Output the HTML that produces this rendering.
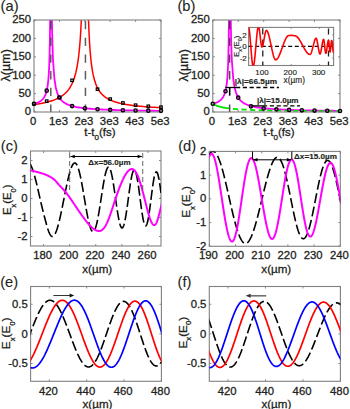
<!DOCTYPE html><html><head><meta charset="utf-8"><style>html,body{margin:0;padding:0;width:350px;height:409px;overflow:hidden;background:#fff}</style></head><body><svg width="350" height="409" viewBox="0 0 350 409" style="display:block;position:absolute;left:0;top:0"><style>text{stroke:#231f20;stroke-width:0.3px}text.s{stroke-width:0.15px}text.L{stroke-width:0.1px}</style>
<rect width="350" height="409" fill="#ffffff"/>
<g style='font-family:"Liberation Sans", sans-serif' fill="#231f20">
<clipPath id="ca"><rect x="34" y="20" width="127" height="92"/></clipPath>
<path d="M34,104.64 L34.89,104.51 L35.78,104.38 L36.68,104.24 L37.57,104.09 L38.46,103.94 L39.35,103.78 L40.25,103.62 L41.14,103.45 L42.03,103.28 L42.92,103.1 L43.81,102.9 L44.71,102.71 L45.6,102.5 L46.49,102.28 L47.38,102.05 L48.28,101.81 L49.17,101.56 L50.06,101.3 L50.95,101.02 L51.84,100.73 L52.74,100.42 L53.63,100.1 L54.52,99.75 L55.41,99.39 L56.31,99 L57.2,98.59 L58.09,98.16 L58.98,97.69 L59.87,97.19 L60.77,96.65 L61.66,96.08 L62.55,95.46 L63.44,94.79 L64.34,94.06 L65.23,93.27 L66.12,92.4 L67.01,91.45 L67.91,90.4 L68.8,89.25 L69.69,87.96 L70.58,86.51 L71.47,84.88 L72.37,83.03 L73.26,80.91 L74.15,78.45 L75.04,75.57 L75.94,72.15 L76.83,68.02 L77.72,62.93 L77.72,62.93 L78.34,58.64 L78.91,53.98 L79.43,48.91 L79.92,43.39 L80.36,37.4 L80.77,30.88 L81.14,23.79 L81.49,16.07 L81.81,7.69 L82.1,1.6 L82.37,1.6 L82.61,1.6 L82.84,1.6 L83.05,1.6 L83.24,1.6 L83.42,1.6 L83.58,1.6 L83.73,1.6 L83.87,1.6 L83.99,1.6 L84.11,1.6 L84.21,1.6 L84.31,1.6 L84.4,1.6 L84.49,1.6 L84.56,1.6 L84.63,1.6 L84.7,1.6 L84.76,1.6 L84.81,1.6 L84.86,1.6 L84.91,1.6 L84.95,1.6 L84.99,1.6 L85.02,1.6 L85.06,1.6 L85.09,1.6 L85.12,1.6 L85.14,1.6 L85.16,1.6 L85.19,1.6 L85.21,1.6 L85.22,1.6 L85.24,1.6 L85.26,1.6 L85.27,1.6 L85.28,1.6 L85.3,1.6 L85.31,1.6 L85.32,1.6 L85.33,1.6 L85.34,1.6 L85.34,1.6 L85.35,1.6 L85.36,1.6 L85.36,1.6 L85.37,1.6 L85.38,1.6 L85.38,1.6 L85.38,1.6 L85.39,1.6 L85.39,1.6 L85.4,1.6 L85.4,1.6 L85.4,1.6 L85.4,1.6 L85.41,1.6 L85.41,1.6 L85.41,1.6 L85.41,1.6 L85.41,1.6 L85.42,1.6 L85.42,1.6 L85.42,1.6 L85.42,1.6 L85.42,1.6 L85.42,1.6 L85.42,1.6 L85.42,1.6" stroke="#ff0000" stroke-width="1.5" fill="none" stroke-linejoin="round" clip-path="url(#ca)" />
<path d="M85.45,1.6 L85.45,1.6 L85.45,1.6 L85.45,1.6 L85.45,1.6 L85.45,1.6 L85.45,1.6 L85.45,1.6 L85.46,1.6 L85.46,1.6 L85.46,1.6 L85.46,1.6 L85.46,1.6 L85.47,1.6 L85.47,1.6 L85.47,1.6 L85.47,1.6 L85.48,1.6 L85.48,1.6 L85.49,1.6 L85.49,1.6 L85.49,1.6 L85.5,1.6 L85.51,1.6 L85.51,1.6 L85.52,1.6 L85.53,1.6 L85.53,1.6 L85.54,1.6 L85.55,1.6 L85.56,1.6 L85.57,1.6 L85.59,1.6 L85.6,1.6 L85.61,1.6 L85.63,1.6 L85.65,1.6 L85.66,1.6 L85.68,1.6 L85.71,1.6 L85.73,1.6 L85.75,1.6 L85.78,1.6 L85.81,1.6 L85.85,1.6 L85.88,1.6 L85.92,1.6 L85.96,1.6 L86.01,1.6 L86.06,1.6 L86.11,1.6 L86.17,1.6 L86.24,1.6 L86.31,1.6 L86.38,1.6 L86.47,1.6 L86.56,1.6 L86.66,1.6 L86.76,1.6 L86.88,1.6 L87,1.6 L87.14,1.6 L87.29,1.6 L87.45,1.6 L87.63,1.6 L87.82,1.6 L88.03,2.06 L88.26,10.86 L88.5,18.94 L88.77,26.38 L89.06,33.22 L89.38,39.5 L89.73,45.29 L90.1,50.61 L90.51,55.5 L90.95,59.99 L91.44,64.13 L91.96,67.93 L92.53,71.43 L93.15,74.65 L93.15,74.65 L94.01,78.33 L94.87,81.35 L95.73,83.86 L96.59,85.99 L97.44,87.81 L98.3,89.38 L99.16,90.76 L100.02,91.98 L100.88,93.07 L101.74,94.03 L102.6,94.91 L103.46,95.69 L104.32,96.41 L105.17,97.06 L106.03,97.66 L106.89,98.22 L107.75,98.73 L108.61,99.2 L109.47,99.63 L110.33,100.04 L111.19,100.42 L112.05,100.78 L112.9,101.11 L113.76,101.43 L114.62,101.72 L115.48,102 L116.34,102.26 L117.2,102.51 L118.06,102.74 L118.92,102.97 L119.77,103.18 L120.63,103.38 L121.49,103.57 L122.35,103.76 L123.21,103.93 L124.07,104.1 L124.93,104.26 L125.79,104.41 L126.65,104.56 L127.5,104.7 L128.36,104.83 L129.22,104.96 L130.08,105.09 L130.94,105.21 L131.8,105.32 L132.66,105.44 L133.52,105.54 L134.38,105.65 L135.23,105.75 L136.09,105.84 L136.95,105.94 L137.81,106.03 L138.67,106.11 L139.53,106.2 L140.39,106.28 L141.25,106.36 L142.11,106.44 L142.96,106.51 L143.82,106.59 L144.68,106.66 L145.54,106.72 L146.4,106.79 L147.26,106.86 L148.12,106.92 L148.98,106.98 L149.83,107.04 L150.69,107.1 L151.55,107.15 L152.41,107.21 L153.27,107.26 L154.13,107.31 L154.99,107.37 L155.85,107.42 L156.71,107.46 L157.56,107.51 L158.42,107.56 L159.28,107.6 L160.14,107.65 L161,107.69" stroke="#ff0000" stroke-width="1.5" fill="none" stroke-linejoin="round" clip-path="url(#ca)" />
<path d="M34,103.79 L34.29,103.72 L34.59,103.63 L34.88,103.55 L35.18,103.46 L35.47,103.37 L35.77,103.28 L36.06,103.18 L36.35,103.08 L36.65,102.98 L36.94,102.87 L37.24,102.75 L37.53,102.63 L37.83,102.51 L38.12,102.38 L38.41,102.24 L38.71,102.1 L39,101.95 L39.3,101.79 L39.59,101.62 L39.89,101.45 L40.18,101.26 L40.48,101.07 L40.77,100.86 L41.06,100.64 L41.36,100.41 L41.65,100.17 L41.95,99.9 L42.24,99.62 L42.54,99.32 L42.83,99 L43.12,98.66 L43.42,98.28 L43.71,97.88 L44.01,97.44 L44.3,96.97 L44.6,96.45 L44.89,95.88 L45.18,95.25 L45.48,94.56 L45.77,93.78 L46.07,92.92 L46.36,91.94 L46.66,90.83 L46.95,89.56 L47.24,88.08 L47.54,86.35 L47.83,84.3 L48.13,81.82 L48.42,78.77 L48.42,78.77 L48.63,76.2 L48.81,73.4 L48.99,70.36 L49.15,67.05 L49.29,63.45 L49.43,59.54 L49.55,55.28 L49.67,50.65 L49.77,45.62 L49.87,40.15 L49.95,34.2 L50.04,27.74 L50.11,20.7 L50.18,13.05 L50.24,4.73 L50.3,1.6 L50.35,1.6 L50.4,1.6 L50.45,1.6 L50.49,1.6 L50.53,1.6 L50.56,1.6 L50.6,1.6 L50.63,1.6 L50.65,1.6 L50.68,1.6 L50.7,1.6 L50.72,1.6 L50.74,1.6 L50.76,1.6 L50.78,1.6 L50.79,1.6 L50.81,1.6 L50.82,1.6 L50.83,1.6 L50.84,1.6 L50.85,1.6 L50.86,1.6 L50.87,1.6 L50.88,1.6 L50.89,1.6 L50.89,1.6 L50.9,1.6 L50.9,1.6 L50.91,1.6 L50.91,1.6 L50.92,1.6 L50.92,1.6 L50.93,1.6 L50.93,1.6 L50.93,1.6 L50.93,1.6 L50.94,1.6 L50.94,1.6 L50.94,1.6 L50.94,1.6 L50.95,1.6 L50.95,1.6 L50.95,1.6 L50.95,1.6 L50.95,1.6 L50.95,1.6 L50.95,1.6 L50.96,1.6 L50.96,1.6 L50.96,1.6 L50.96,1.6 L50.96,1.6 L50.96,1.6 L50.96,1.6 L50.96,1.6 L50.96,1.6 L50.96,1.6 L50.96,1.6 L50.96,1.6 L50.96,1.6 L50.96,1.6 L50.96,1.6 L50.96,1.6" stroke="#ff00ff" stroke-width="1.8" fill="none" stroke-linejoin="round" clip-path="url(#ca)" />
<path d="M50.56,1.6 L50.56,1.6 L50.56,1.6 L50.57,1.6 L50.57,1.6 L50.57,1.6 L50.57,1.6 L50.57,1.6 L50.57,1.6 L50.57,1.6 L50.57,1.6 L50.57,1.6 L50.57,1.6 L50.57,1.6 L50.57,1.6 L50.57,1.6 L50.57,1.6 L50.57,1.6 L50.58,1.6 L50.58,1.6 L50.58,1.6 L50.58,1.6 L50.58,1.6 L50.58,1.6 L50.59,1.6 L50.59,1.6 L50.59,1.6 L50.59,1.6 L50.6,1.6 L50.6,1.6 L50.6,1.6 L50.61,1.6 L50.61,1.6 L50.61,1.6 L50.62,1.6 L50.62,1.6 L50.63,1.6 L50.63,1.6 L50.64,1.6 L50.65,1.6 L50.66,1.6 L50.66,1.6 L50.67,1.6 L50.68,1.6 L50.69,1.6 L50.7,1.6 L50.72,1.6 L50.73,1.6 L50.75,1.6 L50.76,1.6 L50.78,1.6 L50.8,1.6 L50.82,1.6 L50.84,1.6 L50.87,1.6 L50.89,1.6 L50.92,1.6 L50.95,1.6 L50.99,1.6 L51.03,1.6 L51.07,1.6 L51.11,1.6 L51.16,1.6 L51.21,1.6 L51.27,1.6 L51.33,1.6 L51.4,1.6 L51.47,1.6 L51.55,1.6 L51.64,1.6 L51.73,2.47 L51.83,11.28 L51.94,19.38 L52.06,26.82 L52.19,33.67 L52.34,39.96 L52.49,45.75 L52.66,51.08 L52.85,55.98 L53.04,60.48 L53.04,60.48 L54.41,78.76 L55.78,87.47 L57.14,92.56 L58.51,95.9 L59.88,98.26 L61.24,100.02 L62.61,101.38 L63.98,102.46 L65.34,103.34 L66.71,104.08 L68.08,104.69 L69.44,105.22 L70.81,105.68 L72.18,106.08 L73.54,106.43 L74.91,106.74 L76.28,107.02 L77.64,107.27 L79.01,107.5 L80.38,107.71 L81.74,107.9 L83.11,108.07 L84.47,108.23 L85.84,108.37 L87.21,108.51 L88.57,108.63 L89.94,108.75 L91.31,108.86 L92.67,108.96 L94.04,109.06 L95.41,109.15 L96.77,109.23 L98.14,109.31 L99.51,109.39 L100.87,109.46 L102.24,109.52 L103.61,109.59 L104.97,109.65 L106.34,109.71 L107.71,109.76 L109.07,109.81 L110.44,109.86 L111.81,109.91 L113.17,109.96 L114.54,110 L115.9,110.04 L117.27,110.08 L118.64,110.12 L120,110.16 L121.37,110.19 L122.74,110.23 L124.1,110.26 L125.47,110.29 L126.84,110.32 L128.2,110.35 L129.57,110.38 L130.94,110.41 L132.3,110.43 L133.67,110.46 L135.04,110.48 L136.4,110.51 L137.77,110.53 L139.14,110.56 L140.5,110.58 L141.87,110.6 L143.24,110.62 L144.6,110.64 L145.97,110.66 L147.33,110.68 L148.7,110.7 L150.07,110.71 L151.43,110.73 L152.8,110.75 L154.17,110.76 L155.53,110.78 L156.9,110.8 L158.27,110.81 L159.63,110.83 L161,110.84" stroke="#ff00ff" stroke-width="1.8" fill="none" stroke-linejoin="round" clip-path="url(#ca)" />
<path d="M50.79,20 V112" stroke="#4d4d4d" stroke-width="1.5" stroke-dasharray="8.3,8.4" stroke-dashoffset="-1" fill="none" opacity="0.9"/>
<path d="M85.44,20 V112" stroke="#4d4d4d" stroke-width="1.5" stroke-dasharray="8.3,8.4" stroke-dashoffset="-1" fill="none" opacity="0.9"/>
<path d="M34,112v-2.0M34,20v2.0M59.4,112v-2.0M59.4,20v2.0M84.8,112v-2.0M84.8,20v2.0M110.2,112v-2.0M110.2,20v2.0M135.6,112v-2.0M135.6,20v2.0M161,112v-2.0M161,20v2.0M34,112h2.0M161,112h-2.0M34,93.6h2.0M161,93.6h-2.0M34,75.2h2.0M161,75.2h-2.0M34,56.8h2.0M161,56.8h-2.0M34,38.4h2.0M161,38.4h-2.0M34,20h2.0M161,20h-2.0" stroke="#808080" stroke-width="0.9" fill="none"/>
<rect x="34" y="20" width="127" height="92" stroke="#808080" stroke-width="1.1" fill="none"/>
<text x="33.1" y="124.7" font-size="11.3" text-anchor="middle" font-weight="normal" >0</text>
<text x="58.5" y="124.7" font-size="11.3" text-anchor="middle" font-weight="normal" >1e3</text>
<text x="83.9" y="124.7" font-size="11.3" text-anchor="middle" font-weight="normal" >2e3</text>
<text x="109.3" y="124.7" font-size="11.3" text-anchor="middle" font-weight="normal" >3e3</text>
<text x="134.7" y="124.7" font-size="11.3" text-anchor="middle" font-weight="normal" >4e3</text>
<text x="160.1" y="124.7" font-size="11.3" text-anchor="middle" font-weight="normal" >5e3</text>
<text x="31" y="115.3" font-size="11.3" text-anchor="end" font-weight="normal" >0</text>
<text x="31" y="96.9" font-size="11.3" text-anchor="end" font-weight="normal" >50</text>
<text x="31" y="78.5" font-size="11.3" text-anchor="end" font-weight="normal" >100</text>
<text x="31" y="60.1" font-size="11.3" text-anchor="end" font-weight="normal" >150</text>
<text x="31" y="41.7" font-size="11.3" text-anchor="end" font-weight="normal" >200</text>
<text x="31" y="23.3" font-size="11.3" text-anchor="end" font-weight="normal" >250</text>
<text transform="matrix(1.05,0,0,1,0.6,10.6)" font-size="14" text-anchor="start" font-weight="normal" class="L">(a)</text>
<text x="100" y="135.6" font-size="11.5" text-anchor="middle">t-t<tspan font-size="8" dy="4.4">0</tspan><tspan dy="-4.4">(fs)</tspan></text>
<text transform="translate(10.4,65.3) rotate(-90)" font-size="12.5" text-anchor="middle">λ(µm)</text>
<rect x="32.75" y="102.54" width="2.5" height="2.5" stroke="#000" stroke-width="1.2" fill="none"/>
<rect x="45.45" y="99.89" width="2.5" height="2.5" stroke="#000" stroke-width="1.2" fill="none"/>
<rect x="58.15" y="96.25" width="2.5" height="2.5" stroke="#000" stroke-width="1.2" fill="none"/>
<rect x="70.85" y="79.1" width="2.5" height="2.5" stroke="#000" stroke-width="1.2" fill="none"/>
<rect x="96.25" y="87.93" width="2.5" height="2.5" stroke="#000" stroke-width="1.2" fill="none"/>
<rect x="108.95" y="97.87" width="2.5" height="2.5" stroke="#000" stroke-width="1.2" fill="none"/>
<rect x="121.65" y="101.73" width="2.5" height="2.5" stroke="#000" stroke-width="1.2" fill="none"/>
<rect x="134.35" y="103.94" width="2.5" height="2.5" stroke="#000" stroke-width="1.2" fill="none"/>
<rect x="147.05" y="105.05" width="2.5" height="2.5" stroke="#000" stroke-width="1.2" fill="none"/>
<rect x="159.75" y="105.97" width="2.5" height="2.5" stroke="#000" stroke-width="1.2" fill="none"/>
<circle cx="34" cy="103.79" r="1.65" stroke="#000" stroke-width="1.35" fill="none"/>
<circle cx="46.7" cy="90.66" r="1.65" stroke="#000" stroke-width="1.35" fill="none"/>
<circle cx="59.4" cy="97.5" r="1.65" stroke="#000" stroke-width="1.35" fill="none"/>
<circle cx="72.1" cy="106.11" r="1.65" stroke="#000" stroke-width="1.35" fill="none"/>
<circle cx="84.8" cy="108.25" r="1.65" stroke="#000" stroke-width="1.35" fill="none"/>
<circle cx="97.5" cy="109.28" r="1.65" stroke="#000" stroke-width="1.35" fill="none"/>
<circle cx="110.2" cy="109.87" r="1.65" stroke="#000" stroke-width="1.35" fill="none"/>
<circle cx="122.9" cy="110.23" r="1.65" stroke="#000" stroke-width="1.35" fill="none"/>
<circle cx="135.6" cy="110.49" r="1.65" stroke="#000" stroke-width="1.35" fill="none"/>
<circle cx="148.3" cy="110.68" r="1.65" stroke="#000" stroke-width="1.35" fill="none"/>
<circle cx="161" cy="110.82" r="1.65" stroke="#000" stroke-width="1.35" fill="none"/>
<clipPath id="cb"><rect x="212.8" y="20" width="127.2" height="92"/></clipPath>
<path d="M212.8,103.79 L213.09,103.72 L213.39,103.63 L213.68,103.55 L213.98,103.46 L214.27,103.37 L214.57,103.28 L214.86,103.18 L215.16,103.08 L215.45,102.98 L215.75,102.87 L216.04,102.75 L216.34,102.63 L216.63,102.51 L216.93,102.38 L217.22,102.24 L217.52,102.1 L217.81,101.95 L218.11,101.79 L218.4,101.62 L218.7,101.45 L218.99,101.26 L219.29,101.07 L219.58,100.86 L219.88,100.64 L220.17,100.41 L220.46,100.17 L220.76,99.9 L221.05,99.62 L221.35,99.32 L221.64,99 L221.94,98.66 L222.23,98.28 L222.53,97.88 L222.82,97.44 L223.12,96.97 L223.41,96.45 L223.71,95.88 L224,95.25 L224.3,94.56 L224.59,93.78 L224.89,92.92 L225.18,91.94 L225.48,90.83 L225.77,89.56 L226.07,88.08 L226.36,86.35 L226.66,84.3 L226.95,81.82 L227.24,78.77 L227.24,78.77 L227.45,76.2 L227.64,73.4 L227.81,70.36 L227.97,67.05 L228.12,63.45 L228.25,59.54 L228.38,55.28 L228.49,50.65 L228.59,45.62 L228.69,40.15 L228.78,34.2 L228.86,27.74 L228.94,20.7 L229.01,13.05 L229.07,4.73 L229.13,1.6 L229.18,1.6 L229.23,1.6 L229.28,1.6 L229.32,1.6 L229.36,1.6 L229.39,1.6 L229.42,1.6 L229.45,1.6 L229.48,1.6 L229.51,1.6 L229.53,1.6 L229.55,1.6 L229.57,1.6 L229.59,1.6 L229.6,1.6 L229.62,1.6 L229.63,1.6 L229.65,1.6 L229.66,1.6 L229.67,1.6 L229.68,1.6 L229.69,1.6 L229.7,1.6 L229.7,1.6 L229.71,1.6 L229.72,1.6 L229.72,1.6 L229.73,1.6 L229.74,1.6 L229.74,1.6 L229.74,1.6 L229.75,1.6 L229.75,1.6 L229.76,1.6 L229.76,1.6 L229.76,1.6 L229.76,1.6 L229.77,1.6 L229.77,1.6 L229.77,1.6 L229.77,1.6 L229.77,1.6 L229.78,1.6 L229.78,1.6 L229.78,1.6 L229.78,1.6 L229.78,1.6 L229.78,1.6 L229.78,1.6 L229.78,1.6 L229.78,1.6 L229.79,1.6 L229.79,1.6 L229.79,1.6 L229.79,1.6 L229.79,1.6 L229.79,1.6 L229.79,1.6 L229.79,1.6 L229.79,1.6 L229.79,1.6 L229.79,1.6 L229.79,1.6" stroke="#ff00ff" stroke-width="1.8" fill="none" stroke-linejoin="round" clip-path="url(#cb)" />
<path d="M229.39,1.6 L229.39,1.6 L229.39,1.6 L229.39,1.6 L229.39,1.6 L229.39,1.6 L229.39,1.6 L229.39,1.6 L229.39,1.6 L229.39,1.6 L229.39,1.6 L229.4,1.6 L229.4,1.6 L229.4,1.6 L229.4,1.6 L229.4,1.6 L229.4,1.6 L229.4,1.6 L229.4,1.6 L229.4,1.6 L229.4,1.6 L229.41,1.6 L229.41,1.6 L229.41,1.6 L229.41,1.6 L229.41,1.6 L229.42,1.6 L229.42,1.6 L229.42,1.6 L229.42,1.6 L229.43,1.6 L229.43,1.6 L229.44,1.6 L229.44,1.6 L229.44,1.6 L229.45,1.6 L229.45,1.6 L229.46,1.6 L229.47,1.6 L229.47,1.6 L229.48,1.6 L229.49,1.6 L229.5,1.6 L229.51,1.6 L229.52,1.6 L229.53,1.6 L229.54,1.6 L229.56,1.6 L229.57,1.6 L229.59,1.6 L229.61,1.6 L229.63,1.6 L229.65,1.6 L229.67,1.6 L229.69,1.6 L229.72,1.6 L229.75,1.6 L229.78,1.6 L229.82,1.6 L229.85,1.6 L229.89,1.6 L229.94,1.6 L229.99,1.6 L230.04,1.6 L230.09,1.6 L230.16,1.6 L230.22,1.6 L230.3,1.6 L230.38,1.6 L230.46,1.6 L230.56,2.47 L230.66,11.28 L230.77,19.38 L230.89,26.82 L231.02,33.67 L231.17,39.96 L231.32,45.75 L231.49,51.08 L231.67,55.98 L231.87,60.48 L231.87,60.48 L233.24,78.76 L234.61,87.47 L235.98,92.56 L237.35,95.9 L238.72,98.26 L240.09,100.02 L241.46,101.38 L242.82,102.46 L244.19,103.34 L245.56,104.08 L246.93,104.69 L248.3,105.22 L249.67,105.68 L251.04,106.08 L252.4,106.43 L253.77,106.74 L255.14,107.02 L256.51,107.27 L257.88,107.5 L259.25,107.71 L260.62,107.9 L261.99,108.07 L263.35,108.23 L264.72,108.37 L266.09,108.51 L267.46,108.63 L268.83,108.75 L270.2,108.86 L271.57,108.96 L272.94,109.06 L274.3,109.15 L275.67,109.23 L277.04,109.31 L278.41,109.39 L279.78,109.46 L281.15,109.52 L282.52,109.59 L283.88,109.65 L285.25,109.71 L286.62,109.76 L287.99,109.81 L289.36,109.86 L290.73,109.91 L292.1,109.96 L293.47,110 L294.83,110.04 L296.2,110.08 L297.57,110.12 L298.94,110.16 L300.31,110.19 L301.68,110.23 L303.05,110.26 L304.41,110.29 L305.78,110.32 L307.15,110.35 L308.52,110.38 L309.89,110.41 L311.26,110.43 L312.63,110.46 L314,110.48 L315.36,110.51 L316.73,110.53 L318.1,110.56 L319.47,110.58 L320.84,110.6 L322.21,110.62 L323.58,110.64 L324.94,110.66 L326.31,110.68 L327.68,110.7 L329.05,110.71 L330.42,110.73 L331.79,110.75 L333.16,110.76 L334.53,110.78 L335.89,110.8 L337.26,110.81 L338.63,110.83 L340,110.84" stroke="#ff00ff" stroke-width="1.8" fill="none" stroke-linejoin="round" clip-path="url(#cb)" />
<path d="M229.62,20 V112" stroke="#3a3a3a" stroke-width="1.5" stroke-dasharray="8.3,8.4" stroke-dashoffset="-1" fill="none" opacity="0.9"/>
<path d="M212.8,103.72 L213.23,103.99 L213.65,104.24 L214.08,104.48 L214.5,104.7 L214.93,104.91 L215.35,105.11 L215.78,105.3 L216.2,105.48 L216.63,105.65 L217.05,105.81 L217.48,105.96 L217.91,106.1 L218.33,106.24 L218.76,106.38 L219.18,106.5 L219.61,106.62 L220.03,106.74 L220.46,106.85 L220.88,106.95 L221.31,107.05 L221.73,107.15 L222.16,107.25 L222.58,107.34 L223.01,107.42 L223.44,107.51 L223.86,107.59 L224.29,107.67 L224.71,107.74 L225.14,107.81 L225.56,107.88 L225.99,107.95 L226.41,108.02 L226.84,108.08 L227.26,108.14 L227.69,108.2 L228.12,108.26 L228.54,108.32 L228.97,108.37" stroke="#00e600" stroke-width="1.8" fill="none" stroke-linejoin="round" clip-path="url(#cb)" />
<path d="M229.39,108.42 L229.82,108.47 L230.24,108.52 L230.67,108.57 L231.09,108.62 L231.52,108.67 L231.94,108.71 L232.37,108.75 L232.79,108.8 L233.22,108.84 L233.65,108.88 L234.07,108.92 L234.5,108.96 L234.92,108.99 L235.35,109.03 L235.77,109.06 L236.2,109.1 L236.62,109.13 L237.05,109.17 L237.47,109.2 L237.9,109.23 L238.33,109.26 L238.75,109.29 L239.18,109.32 L239.6,109.35 L240.03,109.38 L240.45,109.41 L240.88,109.43 L241.3,109.46 L241.73,109.49 L242.15,109.51 L242.58,109.54 L243,109.56 L243.43,109.58 L243.86,109.61 L244.28,109.63 L244.71,109.65 L245.13,109.68 L245.56,109.7 L245.98,109.72 L246.41,109.74 L246.83,109.76 L247.26,109.78 L247.68,109.8 L248.11,109.82 L248.54,109.84 L248.96,109.86 L249.39,109.88 L249.81,109.89 L250.24,109.91 L250.66,109.93 L251.09,109.95 L251.51,109.96 L251.94,109.98 L252.36,110 L252.79,110.01 L253.21,110.03 L253.64,110.05 L254.07,110.06 L254.49,110.08 L254.92,110.09 L255.34,110.11 L255.77,110.12 L256.19,110.13 L256.62,110.15 L257.04,110.16 L257.47,110.18 L257.89,110.19 L258.32,110.2 L258.75,110.22 L259.17,110.23 L259.6,110.24 L260.02,110.25 L260.45,110.27 L260.87,110.28 L261.3,110.29 L261.72,110.3 L262.15,110.31 L262.57,110.33 L263,110.34 L263.42,110.35 L263.85,110.36 L264.28,110.37 L264.7,110.38 L265.13,110.39 L265.55,110.4 L265.98,110.41 L266.4,110.42 L266.83,110.43 L267.25,110.44 L267.68,110.45 L268.1,110.46 L268.53,110.47 L268.96,110.48 L269.38,110.49 L269.81,110.5 L270.23,110.51 L270.66,110.52 L271.08,110.53 L271.51,110.54 L271.93,110.54 L272.36,110.55 L272.78,110.56 L273.21,110.57 L273.63,110.58 L274.06,110.59 L274.49,110.59 L274.91,110.6 L275.34,110.61 L275.76,110.62 L276.19,110.63 L276.61,110.63 L277.04,110.64 L277.46,110.65 L277.89,110.66 L278.31,110.66 L278.74,110.67 L279.17,110.68 L279.59,110.68 L280.02,110.69 L280.44,110.7 L280.87,110.71 L281.29,110.71 L281.72,110.72 L282.14,110.73 L282.57,110.73 L282.99,110.74 L283.42,110.74 L283.84,110.75 L284.27,110.76 L284.7,110.76 L285.12,110.77 L285.55,110.78 L285.97,110.78 L286.4,110.79 L286.82,110.79 L287.25,110.8 L287.67,110.81 L288.1,110.81 L288.52,110.82 L288.95,110.82 L289.38,110.83 L289.8,110.83 L290.23,110.84 L290.65,110.85 L291.08,110.85 L291.5,110.86 L291.93,110.86 L292.35,110.87 L292.78,110.87 L293.2,110.88 L293.63,110.88 L294.05,110.89 L294.48,110.89 L294.91,110.9 L295.33,110.9 L295.76,110.91 L296.18,110.91 L296.61,110.92 L297.03,110.92 L297.46,110.93 L297.88,110.93 L298.31,110.94 L298.73,110.94 L299.16,110.94 L299.59,110.95 L300.01,110.95 L300.44,110.96 L300.86,110.96 L301.29,110.97 L301.71,110.97 L302.14,110.98 L302.56,110.98 L302.99,110.98 L303.41,110.99 L303.84,110.99 L304.26,111 L304.69,111 L305.12,111 L305.54,111.01 L305.97,111.01 L306.39,111.02 L306.82,111.02 L307.24,111.02 L307.67,111.03 L308.09,111.03 L308.52,111.04 L308.94,111.04 L309.37,111.04 L309.8,111.05 L310.22,111.05 L310.65,111.05 L311.07,111.06 L311.5,111.06 L311.92,111.06 L312.35,111.07 L312.77,111.07 L313.2,111.08 L313.62,111.08 L314.05,111.08 L314.47,111.09 L314.9,111.09 L315.33,111.09 L315.75,111.1 L316.18,111.1 L316.6,111.1 L317.03,111.11 L317.45,111.11 L317.88,111.11 L318.3,111.12 L318.73,111.12 L319.15,111.12 L319.58,111.12 L320.01,111.13 L320.43,111.13 L320.86,111.13 L321.28,111.14 L321.71,111.14 L322.13,111.14 L322.56,111.15 L322.98,111.15 L323.41,111.15 L323.83,111.16 L324.26,111.16 L324.68,111.16 L325.11,111.16 L325.54,111.17 L325.96,111.17 L326.39,111.17 L326.81,111.17 L327.24,111.18 L327.66,111.18 L328.09,111.18 L328.51,111.19 L328.94,111.19 L329.36,111.19 L329.79,111.19 L330.22,111.2 L330.64,111.2 L331.07,111.2 L331.49,111.2 L331.92,111.21 L332.34,111.21 L332.77,111.21 L333.19,111.21 L333.62,111.22 L334.04,111.22 L334.47,111.22 L334.89,111.22 L335.32,111.23 L335.75,111.23 L336.17,111.23 L336.6,111.23 L337.02,111.24 L337.45,111.24 L337.87,111.24 L338.3,111.24 L338.72,111.25 L339.15,111.25 L339.57,111.25 L340,111.25" stroke="#00e600" stroke-width="1.8" fill="none" stroke-linejoin="round" clip-path="url(#cb)" stroke-dasharray="5.2,3.4" stroke-dashoffset="-3.5"/>
<path d="M212.8,112v-2.0M212.8,20v2.0M238.24,112v-2.0M238.24,20v2.0M263.68,112v-2.0M263.68,20v2.0M289.12,112v-2.0M289.12,20v2.0M314.56,112v-2.0M314.56,20v2.0M340,112v-2.0M340,20v2.0M212.8,112h2.0M340,112h-2.0M212.8,93.6h2.0M340,93.6h-2.0M212.8,75.2h2.0M340,75.2h-2.0M212.8,56.8h2.0M340,56.8h-2.0M212.8,38.4h2.0M340,38.4h-2.0M212.8,20h2.0M340,20h-2.0" stroke="#808080" stroke-width="0.9" fill="none"/>
<rect x="212.8" y="20" width="127.2" height="92" stroke="#808080" stroke-width="1.1" fill="none"/>
<text x="211.9" y="124.7" font-size="11.3" text-anchor="middle" font-weight="normal" >0</text>
<text x="237.34" y="124.7" font-size="11.3" text-anchor="middle" font-weight="normal" >1e3</text>
<text x="262.78" y="124.7" font-size="11.3" text-anchor="middle" font-weight="normal" >2e3</text>
<text x="288.22" y="124.7" font-size="11.3" text-anchor="middle" font-weight="normal" >3e3</text>
<text x="313.66" y="124.7" font-size="11.3" text-anchor="middle" font-weight="normal" >4e3</text>
<text x="339.1" y="124.7" font-size="11.3" text-anchor="middle" font-weight="normal" >5e3</text>
<text x="209.8" y="115.3" font-size="11.3" text-anchor="end" font-weight="normal" >0</text>
<text x="209.8" y="96.9" font-size="11.3" text-anchor="end" font-weight="normal" >50</text>
<text x="209.8" y="78.5" font-size="11.3" text-anchor="end" font-weight="normal" >100</text>
<text x="209.8" y="60.1" font-size="11.3" text-anchor="end" font-weight="normal" >150</text>
<text x="209.8" y="41.7" font-size="11.3" text-anchor="end" font-weight="normal" >200</text>
<text x="209.8" y="23.3" font-size="11.3" text-anchor="end" font-weight="normal" >250</text>
<text transform="matrix(1.05,0,0,1,177.4,10.6)" font-size="14" text-anchor="start" font-weight="normal" class="L">(b)</text>
<text x="278.9" y="135.6" font-size="11.5" text-anchor="middle">t-t<tspan font-size="8" dy="4.4">0</tspan><tspan dy="-4.4">(fs)</tspan></text>
<text transform="translate(188,65.3) rotate(-90)" font-size="12.5" text-anchor="middle">λ(µm)</text>
<circle cx="212.8" cy="103.72" r="1.65" stroke="#000" stroke-width="1.35" fill="none"/>
<circle cx="225.52" cy="91.21" r="1.65" stroke="#000" stroke-width="1.35" fill="none"/>
<circle cx="238.24" cy="97.65" r="1.65" stroke="#000" stroke-width="1.35" fill="none"/>
<circle cx="250.96" cy="106.3" r="1.65" stroke="#000" stroke-width="1.35" fill="none"/>
<circle cx="263.68" cy="108.39" r="1.65" stroke="#000" stroke-width="1.35" fill="none"/>
<circle cx="276.4" cy="109.35" r="1.65" stroke="#000" stroke-width="1.35" fill="none"/>
<circle cx="289.12" cy="109.94" r="1.65" stroke="#000" stroke-width="1.35" fill="none"/>
<circle cx="301.84" cy="110.31" r="1.65" stroke="#000" stroke-width="1.35" fill="none"/>
<circle cx="314.56" cy="110.56" r="1.65" stroke="#000" stroke-width="1.35" fill="none"/>
<circle cx="327.28" cy="110.79" r="1.65" stroke="#000" stroke-width="1.35" fill="none"/>
<circle cx="340" cy="110.97" r="1.65" stroke="#000" stroke-width="1.35" fill="none"/>
<path d="M225.2,87.5 H236" stroke="#000" stroke-width="1.3" fill="none"/>
<path d="M236,87.5 H279" stroke="#000" stroke-width="1.3" stroke-dasharray="4.2,2.6" fill="none"/>
<path d="M229.62,87.5 V95" stroke="#000" stroke-width="1.3" fill="none"/>
<path d="M251,105.9 H263" stroke="#000" stroke-width="1.3" fill="none"/>
<path d="M263,105.9 H300" stroke="#000" stroke-width="1.3" stroke-dasharray="4.2,2.6" fill="none"/>
<text x="234.8" y="84.3" font-size="7.9" class="s" font-weight="bold" textLength="42.2" lengthAdjust="spacingAndGlyphs">|λ|=66.5µm</text>
<text x="257" y="103.4" font-size="7.9" class="s" font-weight="bold" textLength="41.6" lengthAdjust="spacingAndGlyphs">|λ|=15.0µm</text>
<clipPath id="ci"><rect x="248.6" y="27.4" width="85" height="38.1"/></clipPath>
<rect x="248.6" y="27.4" width="85" height="38.1" fill="#fff"/>
<path d="M262.77,65.5v-1.5M262.77,27.4v1.5M291.1,65.5v-1.5M291.1,27.4v1.5M319.43,65.5v-1.5M319.43,27.4v1.5M248.6,58h1.5M333.6,58h-1.5M248.6,46.45h1.5M333.6,46.45h-1.5M248.6,34.9h1.5M333.6,34.9h-1.5" stroke="#808080" stroke-width="0.9" fill="none"/>
<rect x="248.6" y="27.4" width="85" height="38.1" stroke="#808080" stroke-width="1.1" fill="none"/>
<path d="M248.6,46.45 H333.6" stroke="#000" stroke-width="1.2" stroke-dasharray="4,2.6" fill="none"/>
<path d="M262.77,27.4 V65.5" stroke="#222" stroke-width="1.3" stroke-dasharray="6,5" stroke-dashoffset="-1" fill="none"/>
<path d="M328.5,27.4 V65.5" stroke="#222" stroke-width="1.3" stroke-dasharray="6,5" stroke-dashoffset="-1" fill="none"/>
<path d="M246.5,30.01 L246.6,29.57 L246.7,29.17 L246.79,28.79 L246.89,28.45 L246.99,28.13 L247.09,27.84 L247.19,27.58 L247.28,27.35 L247.38,27.14 L247.48,26.95 L247.58,26.79 L247.67,26.65 L247.77,26.53 L247.87,26.43 L247.97,26.35 L248.07,26.29 L248.16,26.24 L248.26,26.22 L248.36,26.2 L248.46,26.22 L248.56,26.33 L248.65,26.53 L248.75,26.82 L248.85,27.2 L248.95,27.66 L249.05,28.2 L249.14,28.81 L249.24,29.49 L249.34,30.24 L249.44,31.05 L249.53,31.92 L249.63,32.84 L249.73,33.81 L249.83,34.82 L249.93,35.88 L250.02,36.97 L250.12,38.1 L250.22,39.25 L250.32,40.43 L250.42,41.63 L250.51,42.84 L250.61,44.07 L250.71,45.3 L250.81,46.54 L250.9,47.78 L251,49.01 L251.1,50.24 L251.2,51.45 L251.3,52.64 L251.39,53.82 L251.49,54.97 L251.59,56.09 L251.69,57.17 L251.79,58.22 L251.88,59.23 L251.98,60.2 L252.08,61.11 L252.18,61.97 L252.28,62.77 L252.37,63.51 L252.47,64.18 L252.57,64.78 L252.67,65.31 L252.76,65.76 L252.86,66.13 L252.96,66.41 L253.06,66.59 L253.16,66.69 L253.25,66.69 L253.35,66.6 L253.45,66.44 L253.55,66.2 L253.65,65.89 L253.74,65.51 L253.84,65.06 L253.94,64.55 L254.04,63.99 L254.14,63.36 L254.23,62.68 L254.33,61.95 L254.43,61.18 L254.53,60.36 L254.62,59.49 L254.72,58.59 L254.82,57.66 L254.92,56.69 L255.02,55.69 L255.11,54.67 L255.21,53.62 L255.31,52.56 L255.41,51.47 L255.51,50.38 L255.6,49.27 L255.7,48.15 L255.8,47.03 L255.9,45.91 L255.99,44.79 L256.09,43.67 L256.19,42.57 L256.29,41.47 L256.39,40.38 L256.48,39.32 L256.58,38.27 L256.68,37.25 L256.78,36.25 L256.88,35.28 L256.97,34.34 L257.07,33.44 L257.17,32.58 L257.27,31.75 L257.37,30.97 L257.46,30.24 L257.56,29.56 L257.66,28.94 L257.76,28.37 L257.85,27.86 L257.95,27.41 L258.05,27.03 L258.15,26.71 L258.25,26.47 L258.34,26.3 L258.44,26.22 L258.54,26.21 L258.64,26.3 L258.74,26.49 L258.83,26.76 L258.93,27.12 L259.03,27.56 L259.13,28.06 L259.23,28.64 L259.32,29.27 L259.42,29.95 L259.52,30.68 L259.62,31.46 L259.71,32.27 L259.81,33.11 L259.91,33.97 L260.01,34.85 L260.11,35.74 L260.2,36.64 L260.3,37.53 L260.4,38.42 L260.5,39.3 L260.6,40.16 L260.69,41 L260.79,41.81 L260.89,42.58 L260.99,43.31 L261.09,43.99 L261.18,44.61 L261.28,45.18 L261.38,45.68 L261.48,46.11 L261.57,46.46 L261.67,46.73 L261.77,46.91 L261.87,46.99 L261.97,46.99 L262.06,46.93 L262.16,46.84 L262.26,46.7 L262.36,46.52 L262.46,46.3 L262.55,46.05 L262.65,45.77 L262.75,45.45 L262.85,45.1 L262.94,44.73 L263.04,44.33 L263.14,43.91 L263.24,43.47 L263.34,43.01 L263.43,42.53 L263.53,42.03 L263.63,41.53 L263.73,41.01 L263.83,40.49 L263.92,39.95 L264.02,39.41 L264.12,38.87 L264.22,38.33 L264.32,37.79 L264.41,37.26 L264.51,36.73 L264.61,36.2 L264.71,35.69 L264.8,35.19 L264.9,34.7 L265,34.23 L265.1,33.77 L265.2,33.34 L265.29,32.93 L265.39,32.54 L265.49,32.18 L265.59,31.84 L265.69,31.54 L265.78,31.26 L265.88,31.02 L265.98,30.82 L266.08,30.66 L266.18,30.54 L266.27,30.45 L266.37,30.42 L266.47,30.42 L266.57,30.44 L266.66,30.49 L266.76,30.55 L266.86,30.62 L266.96,30.72 L267.06,30.83 L267.15,30.96 L267.25,31.11 L267.35,31.27 L267.45,31.45 L267.55,31.65 L267.64,31.85 L267.74,32.08 L267.84,32.31 L267.94,32.56 L268.04,32.83 L268.13,33.1 L268.23,33.39 L268.33,33.69 L268.43,34 L268.52,34.32 L268.62,34.66 L268.72,35 L268.82,35.35 L268.92,35.71 L269.01,36.09 L269.11,36.47 L269.21,36.85 L269.31,37.25 L269.41,37.65 L269.5,38.06 L269.6,38.48 L269.7,38.9 L269.8,39.33 L269.89,39.76 L269.99,40.2 L270.09,40.65 L270.19,41.09 L270.29,41.54 L270.38,42 L270.48,42.45 L270.58,42.91 L270.68,43.37 L270.78,43.84 L270.87,44.3 L270.97,44.76 L271.07,45.23 L271.17,45.69 L271.27,46.16 L271.36,46.62 L271.46,47.08 L271.56,47.54 L271.66,48 L271.75,48.46 L271.85,48.91 L271.95,49.36 L272.05,49.8 L272.15,50.25 L272.24,50.68 L272.34,51.11 L272.44,51.54 L272.54,51.96 L272.64,52.37 L272.73,52.78 L272.83,53.18 L272.93,53.58 L273.03,53.96 L273.13,54.34 L273.22,54.7 L273.32,55.06 L273.42,55.41 L273.52,55.75 L273.61,56.08 L273.71,56.4 L273.81,56.71 L273.91,57 L274.01,57.28 L274.1,57.55 L274.2,57.81 L274.3,58.06 L274.4,58.29 L274.5,58.5 L274.59,58.71 L274.69,58.89 L274.79,59.07 L274.89,59.22 L274.98,59.36 L275.08,59.49 L275.18,59.59 L275.28,59.68 L275.38,59.75 L275.47,59.81 L275.57,59.84 L275.67,59.86 L275.77,59.86 L275.87,59.85 L275.96,59.83 L276.06,59.8 L276.16,59.77 L276.26,59.73 L276.36,59.68 L276.45,59.62 L276.55,59.56 L276.65,59.49 L276.75,59.41 L276.84,59.32 L276.94,59.23 L277.04,59.13 L277.14,59.03 L277.24,58.91 L277.33,58.79 L277.43,58.67 L277.53,58.54 L277.63,58.4 L277.73,58.26 L277.82,58.11 L277.92,57.96 L278.02,57.8 L278.12,57.63 L278.22,57.46 L278.31,57.29 L278.41,57.11 L278.51,56.92 L278.61,56.74 L278.7,56.54 L278.8,56.34 L278.9,56.14 L279,55.93 L279.1,55.72 L279.19,55.51 L279.29,55.29 L279.39,55.06 L279.49,54.84 L279.59,54.61 L279.68,54.38 L279.78,54.14 L279.88,53.9 L279.98,53.66 L280.08,53.41 L280.17,53.17 L280.27,52.92 L280.37,52.66 L280.47,52.41 L280.56,52.15 L280.66,51.89 L280.76,51.63 L280.86,51.37 L280.96,51.1 L281.05,50.84 L281.15,50.57 L281.25,50.3 L281.35,50.03 L281.45,49.76 L281.54,49.48 L281.64,49.21 L281.74,48.94 L281.84,48.66 L281.93,48.39 L282.03,48.11 L282.13,47.84 L282.23,47.56 L282.33,47.29 L282.42,47.01 L282.52,46.74 L282.62,46.46 L282.72,46.19 L282.82,45.92 L282.91,45.65 L283.01,45.37 L283.11,45.1 L283.21,44.84 L283.31,44.57 L283.4,44.3 L283.5,44.04 L283.6,43.78 L283.7,43.51 L283.79,43.26 L283.89,43 L283.99,42.74 L284.09,42.49 L284.19,42.24 L284.28,42 L284.38,41.75 L284.48,41.51 L284.58,41.27 L284.68,41.04 L284.77,40.8 L284.87,40.57 L284.97,40.35 L285.07,40.13 L285.17,39.91 L285.26,39.69 L285.36,39.48 L285.46,39.28 L285.56,39.08 L285.65,38.88 L285.75,38.69 L285.85,38.5 L285.95,38.31 L286.05,38.13 L286.14,37.96 L286.24,37.79 L286.34,37.63 L286.44,37.47 L286.54,37.32 L286.63,37.17 L286.73,37.03 L286.83,36.89 L286.93,36.77 L287.03,36.64 L287.12,36.53 L287.22,36.41 L287.32,36.31 L287.42,36.21 L287.51,36.12 L287.61,36.04 L287.71,35.96 L287.81,35.89 L287.91,35.83 L288,35.77 L288.1,35.73 L288.2,35.69 L288.3,35.66 L288.4,35.63 L288.49,35.62 L288.59,35.6 L288.69,35.59 L288.79,35.58 L288.88,35.57 L288.98,35.56 L289.08,35.55 L289.18,35.54 L289.28,35.53 L289.37,35.52 L289.47,35.51 L289.57,35.5 L289.67,35.49 L289.77,35.48 L289.86,35.47 L289.96,35.46 L290.06,35.46 L290.16,35.45 L290.26,35.44 L290.35,35.43 L290.45,35.43 L290.55,35.42 L290.65,35.42 L290.74,35.41 L290.84,35.41 L290.94,35.41 L291.04,35.4 L291.14,35.4 L291.23,35.4 L291.33,35.4 L291.43,35.4 L291.53,35.4 L291.63,35.4 L291.72,35.4 L291.82,35.4 L291.92,35.4 L292.02,35.41 L292.12,35.41 L292.21,35.42 L292.31,35.43 L292.41,35.43 L292.51,35.44 L292.6,35.45 L292.7,35.46 L292.8,35.47 L292.9,35.48 L293,35.49 L293.09,35.5 L293.19,35.52 L293.29,35.53 L293.39,35.55 L293.49,35.56 L293.58,35.57 L293.68,35.59 L293.78,35.61 L293.88,35.62 L293.97,35.64 L294.07,35.66 L294.17,35.67 L294.27,35.69 L294.37,35.71 L294.46,35.73 L294.56,35.75 L294.66,35.77 L294.76,35.79 L294.86,35.81 L294.95,35.83 L295.05,35.85 L295.15,35.87 L295.25,35.89 L295.35,35.91 L295.44,35.93 L295.54,35.95 L295.64,35.98 L295.74,36.01 L295.83,36.04 L295.93,36.08 L296.03,36.12 L296.13,36.17 L296.23,36.22 L296.32,36.27 L296.42,36.33 L296.52,36.39 L296.62,36.46 L296.72,36.53 L296.81,36.6 L296.91,36.68 L297.01,36.76 L297.11,36.85 L297.21,36.94 L297.3,37.03 L297.4,37.12 L297.5,37.22 L297.6,37.32 L297.69,37.43 L297.79,37.54 L297.89,37.65 L297.99,37.76 L298.09,37.88 L298.18,38 L298.28,38.12 L298.38,38.24 L298.48,38.37 L298.58,38.5 L298.67,38.63 L298.77,38.77 L298.87,38.91 L298.97,39.05 L299.07,39.19 L299.16,39.34 L299.26,39.48 L299.36,39.63 L299.46,39.78 L299.55,39.93 L299.65,40.09 L299.75,40.25 L299.85,40.4 L299.95,40.56 L300.04,40.73 L300.14,40.89 L300.24,41.05 L300.34,41.22 L300.44,41.39 L300.53,41.56 L300.63,41.73 L300.73,41.9 L300.83,42.07 L300.92,42.25 L301.02,42.42 L301.12,42.6 L301.22,42.77 L301.32,42.95 L301.41,43.13 L301.51,43.31 L301.61,43.49 L301.71,43.67 L301.81,43.85 L301.9,44.03 L302,44.21 L302.1,44.39 L302.2,44.58 L302.3,44.76 L302.39,44.94 L302.49,45.12 L302.59,45.31 L302.69,45.49 L302.78,45.67 L302.88,45.85 L302.98,46.04 L303.08,46.22 L303.18,46.4 L303.27,46.58 L303.37,46.76 L303.47,46.94 L303.57,47.12 L303.67,47.3 L303.76,47.48 L303.86,47.66 L303.96,47.83 L304.06,48.01 L304.16,48.18 L304.25,48.36 L304.35,48.53 L304.45,48.7 L304.55,48.87 L304.64,49.04 L304.74,49.21 L304.84,49.37 L304.94,49.54 L305.04,49.7 L305.13,49.86 L305.23,50.02 L305.33,50.18 L305.43,50.34 L305.53,50.49 L305.62,50.64 L305.72,50.79 L305.82,50.94 L305.92,51.09 L306.02,51.23 L306.11,51.37 L306.21,51.51 L306.31,51.65 L306.41,51.78 L306.5,51.92 L306.6,52.05 L306.7,52.17 L306.8,52.3 L306.9,52.42 L306.99,52.54 L307.09,52.66 L307.19,52.77 L307.29,52.88 L307.39,52.99 L307.48,53.09 L307.58,53.19 L307.68,53.29 L307.78,53.38 L307.87,53.47 L307.97,53.56 L308.07,53.64 L308.17,53.72 L308.27,53.8 L308.36,53.87 L308.46,53.94 L308.56,54.01 L308.66,54.07 L308.76,54.13 L308.85,54.18 L308.95,54.23 L309.05,54.28 L309.15,54.32 L309.25,54.36 L309.34,54.39 L309.44,54.42 L309.54,54.44 L309.64,54.46 L309.73,54.48 L309.83,54.49 L309.93,54.49 L310.03,54.49 L310.13,54.47 L310.22,54.43 L310.32,54.36 L310.42,54.27 L310.52,54.16 L310.62,54.03 L310.71,53.88 L310.81,53.71 L310.91,53.52 L311.01,53.32 L311.11,53.09 L311.2,52.85 L311.3,52.6 L311.4,52.33 L311.5,52.05 L311.59,51.75 L311.69,51.45 L311.79,51.13 L311.89,50.8 L311.99,50.46 L312.08,50.11 L312.18,49.76 L312.28,49.4 L312.38,49.03 L312.48,48.66 L312.57,48.28 L312.67,47.9 L312.77,47.51 L312.87,47.12 L312.96,46.73 L313.06,46.34 L313.16,45.95 L313.26,45.57 L313.36,45.18 L313.45,44.79 L313.55,44.41 L313.65,44.04 L313.75,43.66 L313.85,43.3 L313.94,42.94 L314.04,42.58 L314.14,42.24 L314.24,41.9 L314.34,41.58 L314.43,41.26 L314.53,40.96 L314.63,40.67 L314.73,40.39 L314.82,40.12 L314.92,39.87 L315.02,39.64 L315.12,39.42 L315.22,39.22 L315.31,39.03 L315.41,38.87 L315.51,38.72 L315.61,38.6 L315.71,38.49 L315.8,38.41 L315.9,38.35 L316,38.31 L316.1,38.3 L316.2,38.32 L316.29,38.41 L316.39,38.55 L316.49,38.73 L316.59,38.97 L316.68,39.25 L316.78,39.57 L316.88,39.93 L316.98,40.33 L317.08,40.76 L317.17,41.21 L317.27,41.7 L317.37,42.21 L317.47,42.74 L317.57,43.28 L317.66,43.84 L317.76,44.42 L317.86,45 L317.96,45.59 L318.06,46.18 L318.15,46.77 L318.25,47.36 L318.35,47.94 L318.45,48.51 L318.54,49.07 L318.64,49.62 L318.74,50.14 L318.84,50.65 L318.94,51.13 L319.03,51.59 L319.13,52.01 L319.23,52.41 L319.33,52.76 L319.43,53.08 L319.52,53.36 L319.62,53.59 L319.72,53.77 L319.82,53.9 L319.91,53.98 L320.01,54 L320.11,53.96 L320.21,53.86 L320.31,53.7 L320.4,53.49 L320.5,53.23 L320.6,52.92 L320.7,52.57 L320.8,52.18 L320.89,51.75 L320.99,51.29 L321.09,50.8 L321.19,50.28 L321.29,49.74 L321.38,49.19 L321.48,48.62 L321.58,48.04 L321.68,47.44 L321.77,46.85 L321.87,46.25 L321.97,45.66 L322.07,45.07 L322.17,44.5 L322.26,43.93 L322.36,43.39 L322.46,42.86 L322.56,42.35 L322.66,41.88 L322.75,41.43 L322.85,41.02 L322.95,40.65 L323.05,40.32 L323.15,40.03 L323.24,39.79 L323.34,39.61 L323.44,39.48 L323.54,39.4 L323.63,39.4 L323.73,39.54 L323.83,39.82 L323.93,40.23 L324.03,40.75 L324.12,41.38 L324.22,42.09 L324.32,42.88 L324.42,43.72 L324.52,44.61 L324.61,45.52 L324.71,46.45 L324.81,47.37 L324.91,48.28 L325.01,49.16 L325.1,49.99 L325.2,50.76 L325.3,51.45 L325.4,52.06 L325.49,52.56 L325.59,52.94 L325.69,53.19 L325.79,53.29 L325.89,53.25 L325.98,53.12 L326.08,52.9 L326.18,52.6 L326.28,52.23 L326.38,51.79 L326.47,51.29 L326.57,50.74 L326.67,50.15 L326.77,49.52 L326.86,48.87 L326.96,48.19 L327.06,47.5 L327.16,46.8 L327.26,46.1 L327.35,45.41 L327.45,44.74 L327.55,44.09 L327.65,43.46 L327.75,42.88 L327.84,42.34 L327.94,41.85 L328.04,41.42 L328.14,41.06 L328.24,40.78 L328.33,40.57 L328.43,40.45 L328.53,40.44 L328.63,40.64 L328.72,41.05 L328.82,41.64 L328.92,42.39 L329.02,43.27 L329.12,44.23 L329.21,45.25 L329.31,46.31 L329.41,47.35 L329.51,48.36 L329.61,49.31 L329.7,50.16 L329.8,50.87 L329.9,51.43 L330,51.79 L330.1,51.92 L330.19,51.81 L330.29,51.47 L330.39,50.93 L330.49,50.23 L330.58,49.4 L330.68,48.46 L330.78,47.46 L330.88,46.41 L330.98,45.36 L331.07,44.33 L331.17,43.36 L331.27,42.48 L331.37,41.71 L331.47,41.1 L331.56,40.67 L331.66,40.45 L331.76,40.47 L331.86,40.69 L331.95,41.09 L332.05,41.64 L332.15,42.32 L332.25,43.1 L332.35,43.97 L332.44,44.9 L332.54,45.87 L332.64,46.85 L332.74,47.82 L332.84,48.76 L332.93,49.65 L333.03,50.45 L333.13,51.15 L333.23,51.73 L333.33,52.15 L333.42,52.41 L333.52,52.47 L333.62,52.41 L333.72,52.28 L333.81,52.08 L333.91,51.8 L334.01,51.44 L334.11,51.01 L334.21,50.5 L334.3,49.92 L334.4,49.27 L334.5,48.55" stroke="#ff0000" stroke-width="1.6" fill="none" stroke-linejoin="round" clip-path="url(#ci)" />
<text x="246.8" y="60.8" font-size="8" text-anchor="end" font-weight="normal" class="s">-2</text>
<text x="246.8" y="49.25" font-size="8" text-anchor="end" font-weight="normal" class="s">0</text>
<text x="246.8" y="37.7" font-size="8" text-anchor="end" font-weight="normal" class="s">2</text>
<text x="261.97" y="75.1" font-size="8" text-anchor="middle" font-weight="normal" class="s">100</text>
<text x="290.3" y="75.1" font-size="8" text-anchor="middle" font-weight="normal" class="s">200</text>
<text x="318.63" y="75.1" font-size="8" text-anchor="middle" font-weight="normal" class="s">300</text>
<text class="s" x="294.3" y="82.5" font-size="8.3" text-anchor="middle">x(µm)</text>
<text class="s" transform="translate(238.6,46.3) rotate(-90)" font-size="7.9" text-anchor="middle">E<tspan font-size="5.3" dy="3">x</tspan><tspan dy="-3">(E</tspan><tspan font-size="5.3" dy="3">0</tspan><tspan dy="-3">)</tspan></text>
<clipPath id="cc"><rect x="30.5" y="151" width="130.5" height="95"/></clipPath>
<path d="M43.55,246v-2.0M43.55,151v2.0M69.65,246v-2.0M69.65,151v2.0M95.75,246v-2.0M95.75,151v2.0M121.85,246v-2.0M121.85,151v2.0M147.95,246v-2.0M147.95,151v2.0M30.5,236.5h2.0M161,236.5h-2.0M30.5,217.5h2.0M161,217.5h-2.0M30.5,198.5h2.0M161,198.5h-2.0M30.5,179.5h2.0M161,179.5h-2.0M30.5,160.5h2.0M161,160.5h-2.0" stroke="#808080" stroke-width="0.9" fill="none"/>
<rect x="30.5" y="151" width="130.5" height="95" stroke="#808080" stroke-width="1.1" fill="none"/>
<path d="M29.5,163.1 L29.77,163.45 L30.03,163.84 L30.3,164.27 L30.56,164.73 L30.83,165.23 L31.09,165.77 L31.36,166.34 L31.62,166.95 L31.89,167.59 L32.16,168.27 L32.42,168.98 L32.69,169.72 L32.95,170.49 L33.22,171.29 L33.48,172.12 L33.75,172.98 L34.01,173.87 L34.28,174.78 L34.55,175.72 L34.81,176.68 L35.08,177.67 L35.34,178.68 L35.61,179.7 L35.87,180.75 L36.14,181.81 L36.4,182.89 L36.67,183.99 L36.93,185.1 L37.2,186.22 L37.47,187.36 L37.73,188.5 L38,189.66 L38.26,190.82 L38.53,191.98 L38.79,193.16 L39.06,194.33 L39.32,195.51 L39.59,196.68 L39.86,197.86 L40.12,199.04 L40.39,200.2 L40.65,201.35 L40.92,202.48 L41.18,203.6 L41.45,204.72 L41.71,205.82 L41.98,206.91 L42.25,208 L42.51,209.07 L42.78,210.14 L43.04,211.21 L43.31,212.26 L43.57,213.31 L43.84,214.36 L44.1,215.4 L44.37,216.44 L44.64,217.47 L44.9,218.5 L45.17,219.53 L45.43,220.54 L45.7,221.56 L45.96,222.55 L46.23,223.54 L46.49,224.51 L46.76,225.46 L47.03,226.38 L47.29,227.28 L47.56,228.15 L47.82,228.99 L48.09,229.79 L48.35,230.56 L48.62,231.29 L48.88,231.97 L49.15,232.62 L49.41,233.22 L49.68,233.77 L49.95,234.27 L50.21,234.73 L50.48,235.13 L50.74,235.48 L51.01,235.79 L51.27,236.03 L51.54,236.23 L51.8,236.37 L52.07,236.46 L52.34,236.5 L52.6,236.49 L52.87,236.42 L53.13,236.3 L53.4,236.13 L53.66,235.92 L53.93,235.65 L54.19,235.33 L54.46,234.96 L54.73,234.55 L54.99,234.09 L55.26,233.58 L55.52,233.03 L55.79,232.43 L56.05,231.79 L56.32,231.1 L56.58,230.38 L56.85,229.61 L57.12,228.81 L57.38,227.96 L57.65,227.08 L57.91,226.17 L58.18,225.22 L58.44,224.23 L58.71,223.22 L58.97,222.17 L59.24,221.09 L59.51,219.99 L59.77,218.86 L60.04,217.7 L60.3,216.52 L60.57,215.32 L60.83,214.1 L61.1,212.86 L61.36,211.6 L61.63,210.33 L61.89,209.04 L62.16,207.74 L62.43,206.43 L62.69,205.11 L62.96,203.78 L63.22,202.45 L63.49,201.11 L63.75,199.76 L64.02,198.42 L64.28,197.08 L64.55,195.74 L64.82,194.4 L65.08,193.07 L65.35,191.75 L65.61,190.43 L65.88,189.13 L66.14,187.84 L66.41,186.56 L66.67,185.3 L66.94,184.06 L67.21,182.83 L67.47,181.63 L67.74,180.45 L68,179.3 L68.27,178.17 L68.53,177.07 L68.8,176 L69.06,174.96 L69.33,173.95 L69.6,172.98 L69.86,172.04 L70.13,171.14 L70.39,170.29 L70.66,169.47 L70.92,168.69 L71.19,167.96 L71.45,167.27 L71.72,166.62 L71.98,166.03 L72.25,165.48 L72.52,164.99 L72.78,164.55 L73.05,164.15 L73.31,163.82 L73.58,163.53 L73.84,163.31 L74.11,163.14 L74.37,163.02 L74.64,162.97 L74.91,162.97 L75.17,163.03 L75.44,163.16 L75.7,163.35 L75.97,163.59 L76.23,163.9 L76.5,164.27 L76.76,164.71 L77.03,165.2 L77.3,165.76 L77.56,166.37 L77.83,167.05 L78.09,167.78 L78.36,168.58 L78.62,169.42 L78.89,170.33 L79.15,171.29 L79.42,172.3 L79.69,173.37 L79.95,174.48 L80.22,175.64 L80.48,176.85 L80.75,178.1 L81.01,179.4 L81.28,180.73 L81.54,182.1 L81.81,183.5 L82.08,184.94 L82.34,186.4 L82.61,187.89 L82.87,189.4 L83.14,190.94 L83.4,192.49 L83.67,194.05 L83.93,195.62 L84.2,197.2 L84.46,198.78 L84.73,200.37 L85,201.95 L85.26,203.52 L85.53,205.08 L85.79,206.63 L86.06,208.16 L86.32,209.67 L86.59,211.16 L86.85,212.61 L87.12,214.04 L87.39,215.43 L87.65,216.78 L87.92,218.1 L88.18,219.36 L88.45,220.58 L88.71,221.75 L88.98,222.87 L89.24,223.93 L89.51,224.93 L89.78,225.87 L90.04,226.74 L90.31,227.55 L90.57,228.29 L90.84,228.95 L91.1,229.55 L91.37,230.07 L91.63,230.52 L91.9,230.88 L92.17,231.17 L92.43,231.38 L92.7,231.52 L92.96,231.57 L93.23,231.54 L93.49,231.42 L93.76,231.23 L94.02,230.95 L94.29,230.6 L94.56,230.16 L94.82,229.64 L95.09,229.04 L95.35,228.36 L95.62,227.6 L95.88,226.77 L96.15,225.86 L96.41,224.88 L96.68,223.83 L96.94,222.71 L97.21,221.52 L97.48,220.27 L97.74,218.96 L98.01,217.59 L98.27,216.17 L98.54,214.7 L98.8,213.18 L99.07,211.62 L99.33,210.02 L99.6,208.39 L99.87,206.72 L100.13,205.04 L100.4,203.33 L100.66,201.61 L100.93,199.87 L101.19,198.13 L101.46,196.39 L101.72,194.66 L101.99,192.93 L102.26,191.23 L102.52,189.54 L102.79,187.87 L103.05,186.24 L103.32,184.65 L103.58,183.09 L103.85,181.58 L104.11,180.13 L104.38,178.73 L104.65,177.39 L104.91,176.11 L105.18,174.9 L105.44,173.77 L105.71,172.72 L105.97,171.75 L106.24,170.86 L106.5,170.06 L106.77,169.35 L107.04,168.74 L107.3,168.22 L107.57,167.81 L107.83,167.49 L108.1,167.27 L108.36,167.16 L108.63,167.15 L108.89,167.25 L109.16,167.45 L109.42,167.76 L109.69,168.17 L109.96,168.69 L110.22,169.31 L110.49,170.03 L110.75,170.86 L111.02,171.78 L111.28,172.79 L111.55,173.9 L111.81,175.1 L112.08,176.38 L112.35,177.74 L112.61,179.18 L112.88,180.69 L113.14,182.26 L113.41,183.9 L113.67,185.58 L113.94,187.32 L114.2,189.1 L114.47,190.91 L114.74,192.75 L115,194.61 L115.27,196.49 L115.53,198.37 L115.8,200.26 L116.06,202.13 L116.33,203.99 L116.59,205.83 L116.86,207.64 L117.13,209.41 L117.39,211.14 L117.66,212.82 L117.92,214.44 L118.19,215.99 L118.45,217.47 L118.72,218.88 L118.98,220.2 L119.25,221.43 L119.52,222.57 L119.78,223.61 L120.05,224.55 L120.31,225.38 L120.58,226.1 L120.84,226.71 L121.11,227.19 L121.37,227.56 L121.64,227.81 L121.9,227.94 L122.17,227.94 L122.44,227.82 L122.7,227.57 L122.97,227.2 L123.23,226.71 L123.5,226.09 L123.76,225.36 L124.03,224.51 L124.29,223.54 L124.56,222.46 L124.83,221.27 L125.09,219.98 L125.36,218.6 L125.62,217.12 L125.89,215.56 L126.15,213.91 L126.42,212.2 L126.68,210.42 L126.95,208.59 L127.22,206.71 L127.48,204.79 L127.75,202.83 L128.01,200.86 L128.28,198.88 L128.54,196.89 L128.81,194.91 L129.07,192.94 L129.34,191 L129.61,189.1 L129.87,187.24 L130.14,185.43 L130.4,183.69 L130.67,182.02 L130.93,180.42 L131.2,178.92 L131.46,177.51 L131.73,176.21 L131.99,175.01 L132.26,173.93 L132.53,172.97 L132.79,172.14 L133.06,171.44 L133.32,170.88 L133.59,170.45 L133.85,170.16 L134.12,170.02 L134.38,170.01 L134.65,170.16 L134.92,170.44 L135.18,170.86 L135.45,171.43 L135.71,172.13 L135.98,172.97 L136.24,173.94 L136.51,175.03 L136.77,176.24 L137.04,177.57 L137.31,179.01 L137.57,180.55 L137.84,182.18 L138.1,183.89 L138.37,185.68 L138.63,187.54 L138.9,189.46 L139.16,191.42 L139.43,193.42 L139.7,195.44 L139.96,197.48 L140.23,199.52 L140.49,201.56 L140.76,203.58 L141.02,205.57 L141.29,207.52 L141.55,209.43 L141.82,211.27 L142.09,213.04 L142.35,214.73 L142.62,216.33 L142.88,217.83 L143.15,219.22 L143.41,220.5 L143.68,221.66 L143.94,222.69 L144.21,223.58 L144.47,224.33 L144.74,224.93 L145.01,225.39 L145.27,225.69 L145.54,225.84 L145.8,225.84 L146.07,225.68 L146.33,225.36 L146.6,224.89 L146.86,224.27 L147.13,223.49 L147.4,222.57 L147.66,221.5 L147.93,220.3 L148.19,218.97 L148.46,217.51 L148.72,215.94 L148.99,214.27 L149.25,212.5 L149.52,210.64 L149.79,208.71 L150.05,206.72 L150.32,204.68 L150.58,202.6 L150.85,200.49 L151.11,198.38 L151.38,196.26 L151.64,194.16 L151.91,192.09 L152.18,190.06 L152.44,188.09 L152.71,186.18 L152.97,184.35 L153.24,182.61 L153.5,180.97 L153.77,179.44 L154.03,178.03 L154.3,176.75 L154.57,175.61 L154.83,174.61 L155.1,173.76 L155.36,173.07 L155.63,172.53 L155.89,172.16 L156.16,171.95 L156.42,171.9 L156.69,172.02 L156.95,172.3 L157.22,172.74 L157.49,173.34 L157.75,174.09 L158.02,174.99 L158.28,176.03 L158.55,177.21 L158.81,178.52 L159.08,179.96 L159.34,181.5 L159.61,183.15 L159.88,184.88 L160.14,186.7 L160.41,188.59 L160.67,190.54 L160.94,192.54 L161.2,194.56 L161.47,196.61 L161.73,198.67 L162,200.72" stroke="#000000" stroke-width="1.6" fill="none" stroke-linejoin="round" clip-path="url(#cc)" stroke-dasharray="10,3.6" />
<path d="M29.5,170.16 L29.77,170.22 L30.03,170.27 L30.3,170.33 L30.56,170.39 L30.83,170.45 L31.09,170.51 L31.36,170.58 L31.62,170.64 L31.89,170.7 L32.16,170.76 L32.42,170.82 L32.69,170.89 L32.95,170.95 L33.22,171.02 L33.48,171.08 L33.75,171.14 L34.01,171.21 L34.28,171.27 L34.55,171.34 L34.81,171.4 L35.08,171.47 L35.34,171.54 L35.61,171.6 L35.87,171.67 L36.14,171.74 L36.4,171.81 L36.67,171.88 L36.93,171.95 L37.2,172.02 L37.47,172.09 L37.73,172.16 L38,172.23 L38.26,172.3 L38.53,172.37 L38.79,172.45 L39.06,172.52 L39.32,172.6 L39.59,172.67 L39.86,172.75 L40.12,172.82 L40.39,172.9 L40.65,172.98 L40.92,173.06 L41.18,173.14 L41.45,173.22 L41.71,173.31 L41.98,173.39 L42.25,173.48 L42.51,173.56 L42.78,173.65 L43.04,173.74 L43.31,173.83 L43.57,173.92 L43.84,174.02 L44.1,174.11 L44.37,174.21 L44.64,174.3 L44.9,174.4 L45.17,174.51 L45.43,174.61 L45.7,174.71 L45.96,174.82 L46.23,174.93 L46.49,175.04 L46.76,175.16 L47.03,175.27 L47.29,175.39 L47.56,175.51 L47.82,175.63 L48.09,175.76 L48.35,175.88 L48.62,176.01 L48.88,176.15 L49.15,176.28 L49.41,176.42 L49.68,176.56 L49.95,176.71 L50.21,176.86 L50.48,177.01 L50.74,177.16 L51.01,177.32 L51.27,177.48 L51.54,177.65 L51.8,177.81 L52.07,177.99 L52.34,178.16 L52.6,178.34 L52.87,178.53 L53.13,178.71 L53.4,178.91 L53.66,179.1 L53.93,179.31 L54.19,179.53 L54.46,179.77 L54.73,180.02 L54.99,180.28 L55.26,180.56 L55.52,180.85 L55.79,181.14 L56.05,181.45 L56.32,181.76 L56.58,182.07 L56.85,182.39 L57.12,182.71 L57.38,183.03 L57.65,183.35 L57.91,183.66 L58.18,183.97 L58.44,184.28 L58.71,184.57 L58.97,184.86 L59.24,185.14 L59.51,185.43 L59.77,185.71 L60.04,185.99 L60.3,186.27 L60.57,186.55 L60.83,186.82 L61.1,187.1 L61.36,187.38 L61.63,187.65 L61.89,187.93 L62.16,188.21 L62.43,188.49 L62.69,188.77 L62.96,189.05 L63.22,189.34 L63.49,189.63 L63.75,189.92 L64.02,190.22 L64.28,190.52 L64.55,190.83 L64.82,191.14 L65.08,191.45 L65.35,191.77 L65.61,192.1 L65.88,192.43 L66.14,192.76 L66.41,193.09 L66.67,193.42 L66.94,193.76 L67.21,194.1 L67.47,194.45 L67.74,194.79 L68,195.15 L68.27,195.5 L68.53,195.86 L68.8,196.22 L69.06,196.59 L69.33,196.96 L69.6,197.33 L69.86,197.71 L70.13,198.1 L70.39,198.49 L70.66,198.88 L70.92,199.27 L71.19,199.66 L71.45,200.06 L71.72,200.45 L71.98,200.84 L72.25,201.24 L72.52,201.63 L72.78,202.02 L73.05,202.42 L73.31,202.81 L73.58,203.2 L73.84,203.6 L74.11,203.99 L74.37,204.38 L74.64,204.78 L74.91,205.17 L75.17,205.57 L75.44,205.96 L75.7,206.35 L75.97,206.74 L76.23,207.14 L76.5,207.53 L76.76,207.92 L77.03,208.31 L77.3,208.7 L77.56,209.1 L77.83,209.49 L78.09,209.88 L78.36,210.26 L78.62,210.65 L78.89,211.04 L79.15,211.43 L79.42,211.81 L79.69,212.2 L79.95,212.58 L80.22,212.97 L80.48,213.35 L80.75,213.73 L81.01,214.11 L81.28,214.49 L81.54,214.87 L81.81,215.24 L82.08,215.62 L82.34,215.99 L82.61,216.36 L82.87,216.73 L83.14,217.1 L83.4,217.46 L83.67,217.83 L83.93,218.19 L84.2,218.55 L84.46,218.91 L84.73,219.26 L85,219.61 L85.26,219.96 L85.53,220.31 L85.79,220.66 L86.06,221 L86.32,221.34 L86.59,221.67 L86.85,222 L87.12,222.33 L87.39,222.66 L87.65,222.98 L87.92,223.3 L88.18,223.61 L88.45,223.92 L88.71,224.23 L88.98,224.53 L89.24,224.82 L89.51,225.12 L89.78,225.4 L90.04,225.69 L90.31,225.96 L90.57,226.23 L90.84,226.5 L91.1,226.76 L91.37,227.02 L91.63,227.27 L91.9,227.51 L92.17,227.74 L92.43,227.97 L92.7,228.2 L92.96,228.41 L93.23,228.62 L93.49,228.82 L93.76,229.02 L94.02,229.2 L94.29,229.38 L94.56,229.55 L94.82,229.71 L95.09,229.87 L95.35,230.01 L95.62,230.15 L95.88,230.27 L96.15,230.39 L96.41,230.5 L96.68,230.59 L96.94,230.68 L97.21,230.76 L97.48,230.82 L97.74,230.88 L98.01,230.92 L98.27,230.96 L98.54,230.98 L98.8,230.99 L99.07,230.99 L99.33,230.97 L99.6,230.95 L99.87,230.9 L100.13,230.85 L100.4,230.77 L100.66,230.69 L100.93,230.58 L101.19,230.46 L101.46,230.32 L101.72,230.16 L101.99,229.99 L102.26,229.79 L102.52,229.58 L102.79,229.35 L103.05,229.09 L103.32,228.82 L103.58,228.52 L103.85,228.21 L104.11,227.87 L104.38,227.52 L104.65,227.14 L104.91,226.74 L105.18,226.32 L105.44,225.88 L105.71,225.42 L105.97,224.94 L106.24,224.44 L106.5,223.91 L106.77,223.37 L107.04,222.81 L107.3,222.23 L107.57,221.63 L107.83,221.02 L108.1,220.38 L108.36,219.73 L108.63,219.07 L108.89,218.38 L109.16,217.69 L109.42,216.98 L109.69,216.25 L109.96,215.52 L110.22,214.77 L110.49,214.01 L110.75,213.24 L111.02,212.46 L111.28,211.67 L111.55,210.88 L111.81,210.08 L112.08,209.27 L112.35,208.46 L112.61,207.64 L112.88,206.82 L113.14,206.01 L113.41,205.18 L113.67,204.36 L113.94,203.55 L114.2,202.73 L114.47,201.91 L114.74,201.1 L115,200.3 L115.27,199.5 L115.53,198.7 L115.8,197.91 L116.06,197.13 L116.33,196.35 L116.59,195.58 L116.86,194.82 L117.13,194.06 L117.39,193.31 L117.66,192.56 L117.92,191.82 L118.19,191.09 L118.45,190.37 L118.72,189.65 L118.98,188.95 L119.25,188.25 L119.52,187.56 L119.78,186.88 L120.05,186.2 L120.31,185.54 L120.58,184.88 L120.84,184.24 L121.11,183.6 L121.37,182.98 L121.64,182.36 L121.9,181.76 L122.17,181.16 L122.44,180.58 L122.7,180 L122.97,179.44 L123.23,178.89 L123.5,178.35 L123.76,177.82 L124.03,177.31 L124.29,176.81 L124.56,176.31 L124.83,175.84 L125.09,175.37 L125.36,174.92 L125.62,174.48 L125.89,174.06 L126.15,173.65 L126.42,173.26 L126.68,172.88 L126.95,172.51 L127.22,172.16 L127.48,171.83 L127.75,171.51 L128.01,171.21 L128.28,170.93 L128.54,170.67 L128.81,170.42 L129.07,170.19 L129.34,169.98 L129.61,169.79 L129.87,169.63 L130.14,169.48 L130.4,169.35 L130.67,169.24 L130.93,169.15 L131.2,169.09 L131.46,169.05 L131.73,169.03 L131.99,169.04 L132.26,169.07 L132.53,169.13 L132.79,169.21 L133.06,169.32 L133.32,169.46 L133.59,169.62 L133.85,169.82 L134.12,170.04 L134.38,170.29 L134.65,170.56 L134.92,170.87 L135.18,171.2 L135.45,171.56 L135.71,171.96 L135.98,172.38 L136.24,172.82 L136.51,173.3 L136.77,173.81 L137.04,174.34 L137.31,174.9 L137.57,175.49 L137.84,176.11 L138.1,176.75 L138.37,177.42 L138.63,178.12 L138.9,178.84 L139.16,179.59 L139.43,180.36 L139.7,181.16 L139.96,181.97 L140.23,182.81 L140.49,183.67 L140.76,184.56 L141.02,185.46 L141.29,186.37 L141.55,187.31 L141.82,188.26 L142.09,189.23 L142.35,190.21 L142.62,191.2 L142.88,192.21 L143.15,193.22 L143.41,194.25 L143.68,195.28 L143.94,196.32 L144.21,197.36 L144.47,198.4 L144.74,199.45 L145.01,200.5 L145.27,201.56 L145.54,202.61 L145.8,203.67 L146.07,204.72 L146.33,205.77 L146.6,206.81 L146.86,207.85 L147.13,208.87 L147.4,209.88 L147.66,210.87 L147.93,211.85 L148.19,212.81 L148.46,213.74 L148.72,214.66 L148.99,215.55 L149.25,216.41 L149.52,217.24 L149.79,218.04 L150.05,218.81 L150.32,219.54 L150.58,220.23 L150.85,220.88 L151.11,221.49 L151.38,222.06 L151.64,222.59 L151.91,223.07 L152.18,223.5 L152.44,223.88 L152.71,224.21 L152.97,224.5 L153.24,224.72 L153.5,224.9 L153.77,225.02 L154.03,225.09 L154.3,225.1 L154.57,225.06 L154.83,224.95 L155.1,224.78 L155.36,224.54 L155.63,224.24 L155.89,223.87 L156.16,223.42 L156.42,222.91 L156.69,222.33 L156.95,221.68 L157.22,220.96 L157.49,220.19 L157.75,219.37 L158.02,218.49 L158.28,217.56 L158.55,216.6 L158.81,215.6 L159.08,214.58 L159.34,213.54 L159.61,212.48 L159.88,211.42 L160.14,210.36 L160.41,209.31 L160.67,208.26 L160.94,207.22 L161.2,206.17 L161.47,205.12 L161.73,204.06 L162,203.02" stroke="#ff00ff" stroke-width="2.0" fill="none" stroke-linejoin="round" clip-path="url(#cc)" />
<text x="42.65" y="258.9" font-size="11.3" text-anchor="middle" font-weight="normal" >180</text>
<text x="68.75" y="258.9" font-size="11.3" text-anchor="middle" font-weight="normal" >200</text>
<text x="94.85" y="258.9" font-size="11.3" text-anchor="middle" font-weight="normal" >220</text>
<text x="120.95" y="258.9" font-size="11.3" text-anchor="middle" font-weight="normal" >240</text>
<text x="147.05" y="258.9" font-size="11.3" text-anchor="middle" font-weight="normal" >260</text>
<text x="27.6" y="240.4" font-size="11.3" text-anchor="end" font-weight="normal" >-2</text>
<text x="27.6" y="221.4" font-size="11.3" text-anchor="end" font-weight="normal" >-1</text>
<text x="27.6" y="202.4" font-size="11.3" text-anchor="end" font-weight="normal" >0</text>
<text x="27.6" y="183.4" font-size="11.3" text-anchor="end" font-weight="normal" >1</text>
<text x="27.6" y="164.4" font-size="11.3" text-anchor="end" font-weight="normal" >2</text>
<text transform="matrix(1.05,0,0,1,0.8,151.2)" font-size="14" text-anchor="start" font-weight="normal" class="L">(c)</text>
<text transform="translate(11.4,199.8) rotate(-90)" font-size="11.4" text-anchor="middle">E<tspan font-size="7.41" dy="4.56">x</tspan><tspan dy="-4.56">(E</tspan><tspan font-size="7.41" dy="4.56">0</tspan><tspan dy="-4.56">)</tspan></text>
<text x="97.25" y="272.8" font-size="11.6" text-anchor="middle" font-weight="normal" >x(µm)</text>
<path d="M69.65,153 V190" stroke="#555" stroke-width="0.9" stroke-dasharray="5,3" fill="none"/>
<path d="M142.73,153 V190" stroke="#555" stroke-width="0.9" stroke-dasharray="5,3" fill="none"/>
<path d="M70.65,156.5 H141.73" stroke="#000" stroke-width="1.0" fill="none"/>
<path d="M70.25,156.5 l4.5,-1.7 v3.4 z M142.13,156.5 l-4.5,-1.7 v3.4 z" fill="#000"/>
<text x="88.2" y="165.4" font-size="8" class="s" font-weight="bold" textLength="42.4" lengthAdjust="spacingAndGlyphs">Δx=56.0µm</text>
<clipPath id="cd"><rect x="209.3" y="151.4" width="131" height="94.9"/></clipPath>
<path d="M209.3,246.3v-2.0M209.3,151.4v2.0M235.5,246.3v-2.0M235.5,151.4v2.0M261.7,246.3v-2.0M261.7,151.4v2.0M287.9,246.3v-2.0M287.9,151.4v2.0M314.1,246.3v-2.0M314.1,151.4v2.0M340.3,246.3v-2.0M340.3,151.4v2.0M209.3,246.3h2.0M340.3,246.3h-2.0M209.3,222.58h2.0M340.3,222.58h-2.0M209.3,198.85h2.0M340.3,198.85h-2.0M209.3,175.12h2.0M340.3,175.12h-2.0M209.3,151.4h2.0M340.3,151.4h-2.0" stroke="#808080" stroke-width="0.9" fill="none"/>
<rect x="209.3" y="151.4" width="131" height="94.9" stroke="#808080" stroke-width="1.1" fill="none"/>
<path d="M208.3,156.16 L208.57,155.64 L208.83,155.15 L209.1,154.69 L209.37,154.26 L209.63,153.86 L209.9,153.49 L210.17,153.15 L210.43,152.84 L210.7,152.55 L210.97,152.3 L211.23,152.08 L211.5,151.89 L211.76,151.73 L212.03,151.61 L212.3,151.51 L212.56,151.44 L212.83,151.41 L213.1,151.4 L213.36,151.43 L213.63,151.49 L213.9,151.58 L214.16,151.7 L214.43,151.86 L214.7,152.04 L214.96,152.26 L215.23,152.51 L215.5,152.79 L215.76,153.09 L216.03,153.43 L216.3,153.8 L216.56,154.2 L216.83,154.63 L217.1,155.09 L217.36,155.58 L217.63,156.09 L217.9,156.63 L218.16,157.2 L218.43,157.8 L218.69,158.43 L218.96,159.08 L219.23,159.76 L219.49,160.46 L219.76,161.18 L220.03,161.94 L220.29,162.71 L220.56,163.51 L220.83,164.33 L221.09,165.17 L221.36,166.04 L221.63,166.92 L221.89,167.83 L222.16,168.76 L222.43,169.7 L222.69,170.66 L222.96,171.64 L223.23,172.64 L223.49,173.65 L223.76,174.68 L224.03,175.73 L224.29,176.79 L224.56,177.86 L224.83,178.94 L225.09,180.04 L225.36,181.15 L225.62,182.27 L225.89,183.39 L226.16,184.53 L226.42,185.68 L226.69,186.83 L226.96,187.99 L227.22,189.15 L227.49,190.32 L227.76,191.5 L228.02,192.68 L228.29,193.86 L228.56,195.04 L228.82,196.22 L229.09,197.41 L229.36,198.59 L229.62,199.78 L229.89,200.96 L230.16,202.14 L230.42,203.31 L230.69,204.48 L230.96,205.65 L231.22,206.81 L231.49,207.96 L231.75,209.11 L232.02,210.24 L232.29,211.37 L232.55,212.49 L232.82,213.6 L233.09,214.7 L233.35,215.79 L233.62,216.86 L233.89,217.93 L234.15,218.97 L234.42,220.01 L234.69,221.03 L234.95,222.03 L235.22,223.02 L235.49,223.99 L235.75,224.94 L236.02,225.87 L236.29,226.79 L236.55,227.68 L236.82,228.56 L237.09,229.42 L237.35,230.25 L237.62,231.06 L237.89,231.85 L238.15,232.62 L238.42,233.37 L238.68,234.09 L238.95,234.79 L239.22,235.46 L239.48,236.11 L239.75,236.73 L240.02,237.33 L240.28,237.9 L240.55,238.45 L240.82,238.97 L241.08,239.46 L241.35,239.92 L241.62,240.36 L241.88,240.77 L242.15,241.15 L242.42,241.5 L242.68,241.83 L242.95,242.12 L243.22,242.39 L243.48,242.63 L243.75,242.83 L244.02,243.01 L244.28,243.16 L244.55,243.28 L244.82,243.37 L245.08,243.43 L245.35,243.46 L245.61,243.46 L245.88,243.43 L246.15,243.37 L246.41,243.28 L246.68,243.16 L246.95,243.01 L247.21,242.83 L247.48,242.62 L247.75,242.39 L248.01,242.12 L248.28,241.83 L248.55,241.5 L248.81,241.15 L249.08,240.78 L249.35,240.37 L249.61,239.94 L249.88,239.49 L250.15,239 L250.41,238.49 L250.68,237.96 L250.95,237.4 L251.21,236.82 L251.48,236.21 L251.74,235.58 L252.01,234.93 L252.28,234.25 L252.54,233.56 L252.81,232.84 L253.08,232.1 L253.34,231.33 L253.61,230.55 L253.88,229.75 L254.14,228.93 L254.41,228.09 L254.68,227.24 L254.94,226.36 L255.21,225.47 L255.48,224.56 L255.74,223.64 L256.01,222.7 L256.28,221.75 L256.54,220.78 L256.81,219.8 L257.08,218.81 L257.34,217.81 L257.61,216.79 L257.88,215.76 L258.14,214.73 L258.41,213.68 L258.67,212.62 L258.94,211.56 L259.21,210.49 L259.47,209.41 L259.74,208.32 L260.01,207.23 L260.27,206.13 L260.54,205.03 L260.81,203.93 L261.07,202.82 L261.34,201.71 L261.61,200.6 L261.87,199.49 L262.14,198.38 L262.41,197.27 L262.67,196.16 L262.94,195.05 L263.21,193.94 L263.47,192.84 L263.74,191.74 L264.01,190.65 L264.27,189.56 L264.54,188.48 L264.81,187.41 L265.07,186.34 L265.34,185.28 L265.6,184.23 L265.87,183.19 L266.14,182.16 L266.4,181.14 L266.67,180.14 L266.94,179.14 L267.2,178.16 L267.47,177.2 L267.74,176.25 L268,175.31 L268.27,174.39 L268.54,173.49 L268.8,172.61 L269.07,171.74 L269.34,170.89 L269.6,170.06 L269.87,169.26 L270.14,168.47 L270.4,167.7 L270.67,166.96 L270.94,166.24 L271.2,165.54 L271.47,164.87 L271.73,164.22 L272,163.6 L272.27,163.01 L272.53,162.44 L272.8,161.9 L273.07,161.38 L273.33,160.89 L273.6,160.44 L273.87,160.01 L274.13,159.61 L274.4,159.24 L274.67,158.91 L274.93,158.6 L275.2,158.33 L275.47,158.09 L275.73,157.88 L276,157.7 L276.27,157.56 L276.53,157.45 L276.8,157.37 L277.07,157.33 L277.33,157.33 L277.6,157.36 L277.87,157.42 L278.13,157.52 L278.4,157.66 L278.66,157.83 L278.93,158.04 L279.2,158.28 L279.46,158.56 L279.73,158.88 L280,159.23 L280.26,159.62 L280.53,160.05 L280.8,160.51 L281.06,161.01 L281.33,161.55 L281.6,162.12 L281.86,162.72 L282.13,163.36 L282.4,164.04 L282.66,164.75 L282.93,165.49 L283.2,166.27 L283.46,167.08 L283.73,167.92 L284,168.79 L284.26,169.7 L284.53,170.63 L284.79,171.59 L285.06,172.59 L285.33,173.6 L285.59,174.65 L285.86,175.72 L286.13,176.81 L286.39,177.93 L286.66,179.07 L286.93,180.24 L287.19,181.42 L287.46,182.62 L287.73,183.84 L287.99,185.08 L288.26,186.33 L288.53,187.6 L288.79,188.87 L289.06,190.16 L289.33,191.46 L289.59,192.77 L289.86,194.09 L290.13,195.41 L290.39,196.74 L290.66,198.07 L290.93,199.4 L291.19,200.73 L291.46,202.06 L291.72,203.38 L291.99,204.7 L292.26,206.02 L292.52,207.33 L292.79,208.63 L293.06,209.92 L293.32,211.19 L293.59,212.46 L293.86,213.71 L294.12,214.94 L294.39,216.15 L294.66,217.35 L294.92,218.52 L295.19,219.68 L295.46,220.81 L295.72,221.91 L295.99,222.99 L296.26,224.04 L296.52,225.07 L296.79,226.06 L297.06,227.02 L297.32,227.96 L297.59,228.86 L297.86,229.72 L298.12,230.55 L298.39,231.34 L298.65,232.1 L298.92,232.82 L299.19,233.5 L299.45,234.14 L299.72,234.75 L299.99,235.31 L300.25,235.83 L300.52,236.31 L300.79,236.74 L301.05,237.14 L301.32,237.49 L301.59,237.79 L301.85,238.06 L302.12,238.27 L302.39,238.45 L302.65,238.58 L302.92,238.67 L303.19,238.71 L303.45,238.7 L303.72,238.66 L303.99,238.57 L304.25,238.43 L304.52,238.25 L304.78,238.02 L305.05,237.75 L305.32,237.44 L305.58,237.08 L305.85,236.68 L306.12,236.23 L306.38,235.74 L306.65,235.21 L306.92,234.64 L307.18,234.02 L307.45,233.37 L307.72,232.67 L307.98,231.93 L308.25,231.16 L308.52,230.35 L308.78,229.5 L309.05,228.61 L309.32,227.69 L309.58,226.73 L309.85,225.75 L310.12,224.73 L310.38,223.67 L310.65,222.59 L310.92,221.49 L311.18,220.35 L311.45,219.19 L311.71,218.01 L311.98,216.8 L312.25,215.57 L312.51,214.32 L312.78,213.06 L313.05,211.77 L313.31,210.47 L313.58,209.16 L313.85,207.84 L314.11,206.51 L314.38,205.16 L314.65,203.81 L314.91,202.46 L315.18,201.1 L315.45,199.74 L315.71,198.38 L315.98,197.02 L316.25,195.67 L316.51,194.31 L316.78,192.97 L317.05,191.63 L317.31,190.31 L317.58,188.99 L317.85,187.69 L318.11,186.4 L318.38,185.13 L318.64,183.88 L318.91,182.64 L319.18,181.43 L319.44,180.24 L319.71,179.07 L319.98,177.93 L320.24,176.81 L320.51,175.73 L320.78,174.67 L321.04,173.64 L321.31,172.64 L321.58,171.68 L321.84,170.75 L322.11,169.85 L322.38,168.99 L322.64,168.17 L322.91,167.38 L323.18,166.64 L323.44,165.93 L323.71,165.26 L323.98,164.64 L324.24,164.05 L324.51,163.51 L324.77,163.01 L325.04,162.55 L325.31,162.14 L325.57,161.77 L325.84,161.44 L326.11,161.16 L326.37,160.93 L326.64,160.74 L326.91,160.59 L327.17,160.49 L327.44,160.43 L327.71,160.42 L327.97,160.45 L328.24,160.52 L328.51,160.64 L328.77,160.81 L329.04,161.02 L329.31,161.27 L329.57,161.57 L329.84,161.91 L330.11,162.29 L330.37,162.71 L330.64,163.18 L330.91,163.69 L331.17,164.23 L331.44,164.82 L331.7,165.45 L331.97,166.11 L332.24,166.81 L332.5,167.55 L332.77,168.32 L333.04,169.13 L333.3,169.97 L333.57,170.85 L333.84,171.75 L334.1,172.69 L334.37,173.65 L334.64,174.65 L334.9,175.67 L335.17,176.72 L335.44,177.79 L335.7,178.89 L335.97,180 L336.24,181.14 L336.5,182.3 L336.77,183.48 L337.04,184.67 L337.3,185.88 L337.57,187.11 L337.84,188.34 L338.1,189.59 L338.37,190.85 L338.63,192.11 L338.9,193.38 L339.17,194.66 L339.43,195.95 L339.7,197.23 L339.97,198.52 L340.23,199.8 L340.5,201.09 L340.77,202.37 L341.03,203.64 L341.3,204.91" stroke="#000000" stroke-width="1.6" fill="none" stroke-linejoin="round" clip-path="url(#cd)" stroke-dasharray="10,3.6" />
<path d="M208.3,159.06 L208.57,158.23 L208.83,157.47 L209.1,156.78 L209.37,156.15 L209.63,155.6 L209.9,155.12 L210.17,154.71 L210.43,154.37 L210.7,154.11 L210.97,153.92 L211.23,153.81 L211.5,153.77 L211.76,153.81 L212.03,153.92 L212.3,154.11 L212.56,154.38 L212.83,154.72 L213.1,155.13 L213.36,155.62 L213.63,156.17 L213.9,156.8 L214.16,157.5 L214.43,158.26 L214.7,159.09 L214.96,159.99 L215.23,160.95 L215.5,161.97 L215.76,163.05 L216.03,164.19 L216.3,165.38 L216.56,166.63 L216.83,167.92 L217.1,169.27 L217.36,170.66 L217.63,172.1 L217.9,173.58 L218.16,175.09 L218.43,176.65 L218.69,178.24 L218.96,179.86 L219.23,181.5 L219.49,183.18 L219.76,184.87 L220.03,186.59 L220.29,188.33 L220.56,190.08 L220.83,191.84 L221.09,193.61 L221.36,195.38 L221.63,197.16 L221.89,198.94 L222.16,200.72 L222.43,202.49 L222.69,204.26 L222.96,206.01 L223.23,207.75 L223.49,209.47 L223.76,211.17 L224.03,212.85 L224.29,214.5 L224.56,216.13 L224.83,217.73 L225.09,219.29 L225.36,220.82 L225.62,222.31 L225.89,223.77 L226.16,225.17 L226.42,226.54 L226.69,227.85 L226.96,229.12 L227.22,230.34 L227.49,231.5 L227.76,232.61 L228.02,233.66 L228.29,234.65 L228.56,235.58 L228.82,236.45 L229.09,237.25 L229.36,237.99 L229.62,238.67 L229.89,239.27 L230.16,239.81 L230.42,240.28 L230.69,240.67 L230.96,240.99 L231.22,241.25 L231.49,241.42 L231.75,241.53 L232.02,241.56 L232.29,241.52 L232.55,241.4 L232.82,241.2 L233.09,240.93 L233.35,240.58 L233.62,240.16 L233.89,239.66 L234.15,239.08 L234.42,238.43 L234.69,237.71 L234.95,236.92 L235.22,236.05 L235.49,235.12 L235.75,234.11 L236.02,233.04 L236.29,231.91 L236.55,230.71 L236.82,229.45 L237.09,228.14 L237.35,226.77 L237.62,225.34 L237.89,223.87 L238.15,222.35 L238.42,220.78 L238.68,219.18 L238.95,217.53 L239.22,215.85 L239.48,214.14 L239.75,212.4 L240.02,210.63 L240.28,208.85 L240.55,207.05 L240.82,205.23 L241.08,203.4 L241.35,201.57 L241.62,199.73 L241.88,197.89 L242.15,196.06 L242.42,194.24 L242.68,192.43 L242.95,190.63 L243.22,188.86 L243.48,187.1 L243.75,185.37 L244.02,183.67 L244.28,182.01 L244.55,180.38 L244.82,178.78 L245.08,177.23 L245.35,175.73 L245.61,174.27 L245.88,172.86 L246.15,171.51 L246.41,170.21 L246.68,168.96 L246.95,167.78 L247.21,166.66 L247.48,165.6 L247.75,164.61 L248.01,163.68 L248.28,162.82 L248.55,162.03 L248.81,161.31 L249.08,160.66 L249.35,160.08 L249.61,159.57 L249.88,159.14 L250.15,158.77 L250.41,158.48 L250.68,158.27 L250.95,158.12 L251.21,158.05 L251.48,158.05 L251.74,158.12 L252.01,158.26 L252.28,158.47 L252.54,158.75 L252.81,159.1 L253.08,159.51 L253.34,159.99 L253.61,160.53 L253.88,161.14 L254.14,161.81 L254.41,162.54 L254.68,163.32 L254.94,164.17 L255.21,165.07 L255.48,166.02 L255.74,167.03 L256.01,168.08 L256.28,169.19 L256.54,170.34 L256.81,171.53 L257.08,172.76 L257.34,174.04 L257.61,175.35 L257.88,176.7 L258.14,178.09 L258.41,179.5 L258.67,180.94 L258.94,182.41 L259.21,183.91 L259.47,185.43 L259.74,186.96 L260.01,188.52 L260.27,190.08 L260.54,191.67 L260.81,193.26 L261.07,194.86 L261.34,196.46 L261.61,198.07 L261.87,199.68 L262.14,201.28 L262.41,202.88 L262.67,204.48 L262.94,206.06 L263.21,207.64 L263.47,209.2 L263.74,210.74 L264.01,212.26 L264.27,213.77 L264.54,215.25 L264.81,216.7 L265.07,218.13 L265.34,219.52 L265.6,220.88 L265.87,222.21 L266.14,223.51 L266.4,224.76 L266.67,225.97 L266.94,227.14 L267.2,228.26 L267.47,229.34 L267.74,230.37 L268,231.35 L268.27,232.27 L268.54,233.15 L268.8,233.96 L269.07,234.72 L269.34,235.42 L269.6,236.07 L269.87,236.65 L270.14,237.16 L270.4,237.62 L270.67,238.01 L270.94,238.33 L271.2,238.58 L271.47,238.77 L271.73,238.89 L272,238.94 L272.27,238.93 L272.53,238.84 L272.8,238.68 L273.07,238.45 L273.33,238.16 L273.6,237.79 L273.87,237.36 L274.13,236.85 L274.4,236.28 L274.67,235.65 L274.93,234.94 L275.2,234.18 L275.47,233.35 L275.73,232.46 L276,231.5 L276.27,230.49 L276.53,229.42 L276.8,228.3 L277.07,227.12 L277.33,225.89 L277.6,224.62 L277.87,223.29 L278.13,221.92 L278.4,220.51 L278.66,219.06 L278.93,217.56 L279.2,216.04 L279.46,214.48 L279.73,212.9 L280,211.28 L280.26,209.65 L280.53,207.99 L280.8,206.32 L281.06,204.63 L281.33,202.93 L281.6,201.23 L281.86,199.51 L282.13,197.8 L282.4,196.09 L282.66,194.38 L282.93,192.68 L283.2,191 L283.46,189.32 L283.73,187.67 L284,186.03 L284.26,184.42 L284.53,182.84 L284.79,181.29 L285.06,179.77 L285.33,178.28 L285.59,176.84 L285.86,175.43 L286.13,174.07 L286.39,172.76 L286.66,171.49 L286.93,170.28 L287.19,169.13 L287.46,168.02 L287.73,166.98 L287.99,166 L288.26,165.08 L288.53,164.23 L288.79,163.44 L289.06,162.72 L289.33,162.07 L289.59,161.49 L289.86,160.98 L290.13,160.54 L290.39,160.18 L290.66,159.89 L290.93,159.67 L291.19,159.53 L291.46,159.47 L291.72,159.48 L291.99,159.57 L292.26,159.73 L292.52,159.97 L292.79,160.29 L293.06,160.68 L293.32,161.15 L293.59,161.69 L293.86,162.3 L294.12,162.99 L294.39,163.75 L294.66,164.58 L294.92,165.48 L295.19,166.45 L295.46,167.48 L295.72,168.57 L295.99,169.72 L296.26,170.94 L296.52,172.2 L296.79,173.53 L297.06,174.9 L297.32,176.32 L297.59,177.79 L297.86,179.29 L298.12,180.84 L298.39,182.42 L298.65,184.04 L298.92,185.68 L299.19,187.35 L299.45,189.04 L299.72,190.74 L299.99,192.47 L300.25,194.2 L300.52,195.94 L300.79,197.68 L301.05,199.43 L301.32,201.16 L301.59,202.9 L301.85,204.62 L302.12,206.32 L302.39,208.01 L302.65,209.68 L302.92,211.32 L303.19,212.93 L303.45,214.51 L303.72,216.05 L303.99,217.56 L304.25,219.03 L304.52,220.45 L304.78,221.82 L305.05,223.15 L305.32,224.42 L305.58,225.64 L305.85,226.81 L306.12,227.91 L306.38,228.96 L306.65,229.94 L306.92,230.86 L307.18,231.72 L307.45,232.5 L307.72,233.22 L307.98,233.88 L308.25,234.46 L308.52,234.97 L308.78,235.41 L309.05,235.78 L309.32,236.08 L309.58,236.31 L309.85,236.47 L310.12,236.56 L310.38,236.57 L310.65,236.52 L310.92,236.4 L311.18,236.21 L311.45,235.95 L311.71,235.62 L311.98,235.23 L312.25,234.77 L312.51,234.25 L312.78,233.67 L313.05,233.02 L313.31,232.32 L313.58,231.56 L313.85,230.74 L314.11,229.87 L314.38,228.95 L314.65,227.97 L314.91,226.95 L315.18,225.88 L315.45,224.77 L315.71,223.61 L315.98,222.42 L316.25,221.18 L316.51,219.92 L316.78,218.61 L317.05,217.28 L317.31,215.92 L317.58,214.53 L317.85,213.12 L318.11,211.69 L318.38,210.23 L318.64,208.77 L318.91,207.28 L319.18,205.79 L319.44,204.29 L319.71,202.78 L319.98,201.27 L320.24,199.75 L320.51,198.24 L320.78,196.73 L321.04,195.22 L321.31,193.73 L321.58,192.24 L321.84,190.77 L322.11,189.32 L322.38,187.88 L322.64,186.46 L322.91,185.06 L323.18,183.69 L323.44,182.35 L323.71,181.03 L323.98,179.75 L324.24,178.49 L324.51,177.28 L324.77,176.1 L325.04,174.96 L325.31,173.86 L325.57,172.8 L325.84,171.79 L326.11,170.83 L326.37,169.91 L326.64,169.04 L326.91,168.23 L327.17,167.46 L327.44,166.75 L327.71,166.1 L327.97,165.5 L328.24,164.95 L328.51,164.47 L328.77,164.05 L329.04,163.68 L329.31,163.38 L329.57,163.14 L329.84,162.96 L330.11,162.84 L330.37,162.79 L330.64,162.8 L330.91,162.88 L331.17,163.02 L331.44,163.22 L331.7,163.49 L331.97,163.82 L332.24,164.22 L332.5,164.67 L332.77,165.19 L333.04,165.77 L333.3,166.41 L333.57,167.1 L333.84,167.86 L334.1,168.67 L334.37,169.53 L334.64,170.45 L334.9,171.42 L335.17,172.44 L335.44,173.5 L335.7,174.61 L335.97,175.77 L336.24,176.97 L336.5,178.2 L336.77,179.48 L337.04,180.79 L337.3,182.13 L337.57,183.5 L337.84,184.9 L338.1,186.33 L338.37,187.78 L338.63,189.25 L338.9,190.74 L339.17,192.24 L339.43,193.75 L339.7,195.28 L339.97,196.81 L340.23,198.34 L340.5,199.87 L340.77,201.41 L341.03,202.93 L341.3,204.45" stroke="#ff00ff" stroke-width="2.0" fill="none" stroke-linejoin="round" clip-path="url(#cd)" />
<text x="208.4" y="259.2" font-size="11.3" text-anchor="middle" font-weight="normal" >190</text>
<text x="234.6" y="259.2" font-size="11.3" text-anchor="middle" font-weight="normal" >200</text>
<text x="260.8" y="259.2" font-size="11.3" text-anchor="middle" font-weight="normal" >210</text>
<text x="287" y="259.2" font-size="11.3" text-anchor="middle" font-weight="normal" >220</text>
<text x="313.2" y="259.2" font-size="11.3" text-anchor="middle" font-weight="normal" >230</text>
<text x="339.4" y="259.2" font-size="11.3" text-anchor="middle" font-weight="normal" >240</text>
<text x="206.4" y="249.7" font-size="11.3" text-anchor="end" font-weight="normal" >-2</text>
<text x="206.4" y="225.98" font-size="11.3" text-anchor="end" font-weight="normal" >-1</text>
<text x="206.4" y="202.25" font-size="11.3" text-anchor="end" font-weight="normal" >0</text>
<text x="206.4" y="178.53" font-size="11.3" text-anchor="end" font-weight="normal" >1</text>
<text x="206.4" y="154.8" font-size="11.3" text-anchor="end" font-weight="normal" >2</text>
<text transform="matrix(1.05,0,0,1,178.2,150.8)" font-size="14" text-anchor="start" font-weight="normal" class="L">(d)</text>
<text transform="translate(189.9,202) rotate(-90)" font-size="11.8" text-anchor="middle">E<tspan font-size="7.67" dy="4.72">x</tspan><tspan dy="-4.72">(E</tspan><tspan font-size="7.67" dy="4.72">0</tspan><tspan dy="-4.72">)</tspan></text>
<text x="276.3" y="272.8" font-size="11.6" text-anchor="middle" font-weight="normal" >x(µm)</text>
<path d="M252.5,151.5 V159.5 M291.8,151.5 V159.5" stroke="#000" stroke-width="1.0" fill="none"/>
<path d="M253.3,159.8 H291" stroke="#000" stroke-width="1.0" fill="none"/>
<path d="M253,159.8 l4.5,-1.7 v3.4 z M291.3,159.8 l-4.5,-1.7 v3.4 z" fill="#000"/>
<text x="294" y="158.9" font-size="8" class="s" font-weight="bold" textLength="43" lengthAdjust="spacingAndGlyphs">Δx=15.0µm</text>
<clipPath id="ce"><rect x="30.6" y="286.5" width="130.8" height="94.8"/></clipPath>
<path d="M49.29,381.3v-2.0M49.29,286.5v2.0M86.66,381.3v-2.0M86.66,286.5v2.0M124.03,381.3v-2.0M124.03,286.5v2.0M161.4,381.3v-2.0M161.4,286.5v2.0M30.6,363.52h2.0M161.4,363.52h-2.0M30.6,333.9h2.0M161.4,333.9h-2.0M30.6,304.27h2.0M161.4,304.27h-2.0" stroke="#808080" stroke-width="0.9" fill="none"/>
<rect x="30.6" y="286.5" width="130.8" height="94.8" stroke="#808080" stroke-width="1.1" fill="none"/>
<path d="M29.6,334.96 L29.87,334.27 L30.13,333.57 L30.4,332.87 L30.66,332.18 L30.93,331.48 L31.2,330.79 L31.46,330.1 L31.73,329.41 L32,328.72 L32.26,328.03 L32.53,327.35 L32.79,326.66 L33.06,325.98 L33.33,325.31 L33.59,324.64 L33.86,323.97 L34.12,323.3 L34.39,322.64 L34.66,321.99 L34.92,321.34 L35.19,320.69 L35.45,320.05 L35.72,319.42 L35.99,318.79 L36.25,318.17 L36.52,317.56 L36.79,316.95 L37.05,316.35 L37.32,315.75 L37.58,315.17 L37.85,314.59 L38.12,314.02 L38.38,313.46 L38.65,312.91 L38.91,312.37 L39.18,311.83 L39.45,311.31 L39.71,310.79 L39.98,310.29 L40.25,309.8 L40.51,309.31 L40.78,308.84 L41.04,308.37 L41.31,307.92 L41.58,307.48 L41.84,307.05 L42.11,306.64 L42.37,306.23 L42.64,305.84 L42.91,305.46 L43.17,305.09 L43.44,304.73 L43.71,304.39 L43.97,304.05 L44.24,303.74 L44.5,303.43 L44.77,303.14 L45.04,302.86 L45.3,302.6 L45.57,302.35 L45.83,302.11 L46.1,301.89 L46.37,301.68 L46.63,301.48 L46.9,301.3 L47.16,301.14 L47.43,300.99 L47.7,300.85 L47.96,300.73 L48.23,300.62 L48.5,300.52 L48.76,300.45 L49.03,300.38 L49.29,300.33 L49.56,300.3 L49.83,300.28 L50.09,300.28 L50.36,300.29 L50.62,300.31 L50.89,300.35 L51.16,300.41 L51.42,300.48 L51.69,300.57 L51.96,300.67 L52.22,300.78 L52.49,300.91 L52.75,301.06 L53.02,301.22 L53.29,301.39 L53.55,301.58 L53.82,301.78 L54.08,302 L54.35,302.23 L54.62,302.48 L54.88,302.74 L55.15,303.01 L55.41,303.3 L55.68,303.6 L55.95,303.91 L56.21,304.24 L56.48,304.58 L56.75,304.94 L57.01,305.31 L57.28,305.69 L57.54,306.08 L57.81,306.49 L58.08,306.9 L58.34,307.34 L58.61,307.78 L58.87,308.23 L59.14,308.7 L59.41,309.18 L59.67,309.66 L59.94,310.16 L60.21,310.67 L60.47,311.2 L60.74,311.73 L61,312.27 L61.27,312.82 L61.54,313.38 L61.8,313.95 L62.07,314.53 L62.33,315.12 L62.6,315.72 L62.87,316.32 L63.13,316.94 L63.4,317.56 L63.66,318.19 L63.93,318.82 L64.2,319.47 L64.46,320.12 L64.73,320.77 L65,321.44 L65.26,322.1 L65.53,322.78 L65.79,323.46 L66.06,324.14 L66.33,324.83 L66.59,325.53 L66.86,326.22 L67.12,326.92 L67.39,327.63 L67.66,328.34 L67.92,329.05 L68.19,329.76 L68.46,330.48 L68.72,331.19 L68.99,331.91 L69.25,332.63 L69.52,333.35 L69.79,334.07 L70.05,334.79 L70.32,335.51 L70.58,336.23 L70.85,336.95 L71.12,337.67 L71.38,338.39 L71.65,339.1 L71.92,339.81 L72.18,340.52 L72.45,341.23 L72.71,341.93 L72.98,342.64 L73.25,343.33 L73.51,344.02 L73.78,344.71 L74.04,345.39 L74.31,346.07 L74.58,346.74 L74.84,347.41 L75.11,348.07 L75.37,348.72 L75.64,349.37 L75.91,350.01 L76.17,350.64 L76.44,351.27 L76.71,351.88 L76.97,352.49 L77.24,353.09 L77.5,353.68 L77.77,354.26 L78.04,354.83 L78.3,355.39 L78.57,355.94 L78.83,356.48 L79.1,357.01 L79.37,357.53 L79.63,358.04 L79.9,358.53 L80.17,359.02 L80.43,359.49 L80.7,359.95 L80.96,360.4 L81.23,360.83 L81.5,361.25 L81.76,361.66 L82.03,362.05 L82.29,362.43 L82.56,362.8 L82.83,363.15 L83.09,363.49 L83.36,363.81 L83.62,364.12 L83.89,364.41 L84.16,364.69 L84.42,364.95 L84.69,365.2 L84.96,365.43 L85.22,365.64 L85.49,365.84 L85.75,366.03 L86.02,366.19 L86.29,366.35 L86.55,366.48 L86.82,366.6 L87.08,366.7 L87.35,366.78 L87.62,366.85 L87.88,366.9 L88.15,366.93 L88.42,366.95 L88.68,366.95 L88.95,366.93 L89.21,366.9 L89.48,366.85 L89.75,366.78 L90.01,366.69 L90.28,366.59 L90.54,366.46 L90.81,366.33 L91.08,366.17 L91.34,366 L91.61,365.81 L91.87,365.6 L92.14,365.38 L92.41,365.14 L92.67,364.88 L92.94,364.61 L93.21,364.32 L93.47,364.01 L93.74,363.69 L94,363.35 L94.27,362.99 L94.54,362.62 L94.8,362.23 L95.07,361.83 L95.33,361.41 L95.6,360.98 L95.87,360.53 L96.13,360.07 L96.4,359.59 L96.67,359.1 L96.93,358.59 L97.2,358.07 L97.46,357.54 L97.73,356.99 L98,356.43 L98.26,355.86 L98.53,355.27 L98.79,354.68 L99.06,354.07 L99.33,353.45 L99.59,352.82 L99.86,352.18 L100.13,351.52 L100.39,350.86 L100.66,350.19 L100.92,349.51 L101.19,348.81 L101.46,348.11 L101.72,347.41 L101.99,346.69 L102.25,345.97 L102.52,345.24 L102.79,344.5 L103.05,343.76 L103.32,343.01 L103.58,342.25 L103.85,341.49 L104.12,340.73 L104.38,339.96 L104.65,339.18 L104.92,338.41 L105.18,337.63 L105.45,336.85 L105.71,336.07 L105.98,335.28 L106.25,334.49 L106.51,333.71 L106.78,332.92 L107.04,332.14 L107.31,331.35 L107.58,330.57 L107.84,329.78 L108.11,329 L108.38,328.22 L108.64,327.45 L108.91,326.68 L109.17,325.91 L109.44,325.15 L109.71,324.39 L109.97,323.64 L110.24,322.89 L110.5,322.15 L110.77,321.41 L111.04,320.69 L111.3,319.97 L111.57,319.25 L111.83,318.55 L112.1,317.86 L112.37,317.17 L112.63,316.5 L112.9,315.83 L113.17,315.18 L113.43,314.53 L113.7,313.9 L113.96,313.28 L114.23,312.67 L114.5,312.08 L114.76,311.49 L115.03,310.92 L115.29,310.37 L115.56,309.82 L115.83,309.29 L116.09,308.78 L116.36,308.28 L116.63,307.8 L116.89,307.33 L117.16,306.88 L117.42,306.44 L117.69,306.02 L117.96,305.62 L118.22,305.23 L118.49,304.86 L118.75,304.51 L119.02,304.18 L119.29,303.86 L119.55,303.56 L119.82,303.28 L120.08,303.02 L120.35,302.78 L120.62,302.56 L120.88,302.35 L121.15,302.16 L121.42,302 L121.68,301.85 L121.95,301.72 L122.21,301.61 L122.48,301.52 L122.75,301.45 L123.01,301.41 L123.28,301.38 L123.54,301.37 L123.81,301.38 L124.08,301.4 L124.34,301.45 L124.61,301.52 L124.88,301.61 L125.14,301.72 L125.41,301.85 L125.67,302 L125.94,302.17 L126.21,302.35 L126.47,302.56 L126.74,302.79 L127,303.04 L127.27,303.3 L127.54,303.59 L127.8,303.89 L128.07,304.21 L128.34,304.55 L128.6,304.91 L128.87,305.29 L129.13,305.69 L129.4,306.1 L129.67,306.53 L129.93,306.98 L130.2,307.45 L130.46,307.93 L130.73,308.43 L131,308.94 L131.26,309.48 L131.53,310.02 L131.79,310.58 L132.06,311.16 L132.33,311.75 L132.59,312.36 L132.86,312.98 L133.13,313.61 L133.39,314.26 L133.66,314.92 L133.92,315.59 L134.19,316.28 L134.46,316.97 L134.72,317.68 L134.99,318.4 L135.25,319.12 L135.52,319.86 L135.79,320.61 L136.05,321.36 L136.32,322.12 L136.59,322.89 L136.85,323.67 L137.12,324.46 L137.38,325.25 L137.65,326.05 L137.92,326.85 L138.18,327.66 L138.45,328.47 L138.71,329.28 L138.98,330.1 L139.25,330.92 L139.51,331.74 L139.78,332.57 L140.04,333.39 L140.31,334.22 L140.58,335.05 L140.84,335.87 L141.11,336.7 L141.38,337.52 L141.64,338.34 L141.91,339.16 L142.17,339.97 L142.44,340.78 L142.71,341.59 L142.97,342.39 L143.24,343.18 L143.5,343.97 L143.77,344.75 L144.04,345.53 L144.3,346.3 L144.57,347.06 L144.84,347.81 L145.1,348.55 L145.37,349.28 L145.63,350 L145.9,350.71 L146.17,351.41 L146.43,352.1 L146.7,352.78 L146.96,353.44 L147.23,354.09 L147.5,354.73 L147.76,355.36 L148.03,355.97 L148.29,356.56 L148.56,357.14 L148.83,357.7 L149.09,358.25 L149.36,358.78 L149.63,359.3 L149.89,359.8 L150.16,360.28 L150.42,360.74 L150.69,361.19 L150.96,361.61 L151.22,362.02 L151.49,362.41 L151.75,362.78 L152.02,363.13 L152.29,363.46 L152.55,363.77 L152.82,364.06 L153.09,364.34 L153.35,364.59 L153.62,364.82 L153.88,365.02 L154.15,365.21 L154.42,365.38 L154.68,365.52 L154.95,365.65 L155.21,365.75 L155.48,365.83 L155.75,365.89 L156.01,365.93 L156.28,365.95 L156.55,365.94 L156.81,365.92 L157.08,365.87 L157.34,365.8 L157.61,365.71 L157.88,365.59 L158.14,365.46 L158.41,365.3 L158.67,365.13 L158.94,364.93 L159.21,364.71 L159.47,364.47 L159.74,364.21 L160,363.93 L160.27,363.63 L160.54,363.3 L160.8,362.96 L161.07,362.6 L161.34,362.22 L161.6,361.82 L161.87,361.4 L162.13,360.96 L162.4,360.5" stroke="#000000" stroke-width="1.6" fill="none" stroke-linejoin="round" clip-path="url(#ce)" stroke-dasharray="10,3.4" stroke-dashoffset="4"/>
<path d="M29.6,361.41 L29.87,361.01 L30.13,360.6 L30.4,360.17 L30.66,359.74 L30.93,359.3 L31.2,358.84 L31.46,358.38 L31.73,357.91 L32,357.42 L32.26,356.93 L32.53,356.43 L32.79,355.92 L33.06,355.4 L33.33,354.87 L33.59,354.33 L33.86,353.79 L34.12,353.23 L34.39,352.67 L34.66,352.1 L34.92,351.53 L35.19,350.94 L35.45,350.35 L35.72,349.76 L35.99,349.15 L36.25,348.54 L36.52,347.92 L36.79,347.3 L37.05,346.67 L37.32,346.04 L37.58,345.4 L37.85,344.76 L38.12,344.11 L38.38,343.45 L38.65,342.8 L38.91,342.14 L39.18,341.47 L39.45,340.8 L39.71,340.13 L39.98,339.46 L40.25,338.78 L40.51,338.1 L40.78,337.42 L41.04,336.74 L41.31,336.06 L41.58,335.37 L41.84,334.68 L42.11,334 L42.37,333.31 L42.64,332.62 L42.91,331.94 L43.17,331.25 L43.44,330.56 L43.71,329.88 L43.97,329.2 L44.24,328.52 L44.5,327.84 L44.77,327.16 L45.04,326.48 L45.3,325.81 L45.57,325.14 L45.83,324.48 L46.1,323.82 L46.37,323.16 L46.63,322.5 L46.9,321.86 L47.16,321.21 L47.43,320.57 L47.7,319.94 L47.96,319.31 L48.23,318.69 L48.5,318.07 L48.76,317.46 L49.03,316.86 L49.29,316.26 L49.56,315.67 L49.83,315.09 L50.09,314.52 L50.36,313.96 L50.62,313.4 L50.89,312.85 L51.16,312.31 L51.42,311.78 L51.69,311.26 L51.96,310.75 L52.22,310.24 L52.49,309.75 L52.75,309.27 L53.02,308.8 L53.29,308.34 L53.55,307.89 L53.82,307.45 L54.08,307.02 L54.35,306.61 L54.62,306.2 L54.88,305.81 L55.15,305.43 L55.41,305.06 L55.68,304.71 L55.95,304.36 L56.21,304.03 L56.48,303.72 L56.75,303.41 L57.01,303.12 L57.28,302.84 L57.54,302.58 L57.81,302.33 L58.08,302.09 L58.34,301.87 L58.61,301.66 L58.87,301.47 L59.14,301.29 L59.41,301.12 L59.67,300.97 L59.94,300.83 L60.21,300.71 L60.47,300.61 L60.74,300.51 L61,300.44 L61.27,300.37 L61.54,300.33 L61.8,300.29 L62.07,300.28 L62.33,300.27 L62.6,300.29 L62.87,300.31 L63.13,300.36 L63.4,300.42 L63.66,300.49 L63.93,300.58 L64.2,300.68 L64.46,300.8 L64.73,300.93 L65,301.08 L65.26,301.25 L65.53,301.42 L65.79,301.62 L66.06,301.83 L66.33,302.05 L66.59,302.29 L66.86,302.54 L67.12,302.81 L67.39,303.09 L67.66,303.39 L67.92,303.7 L68.19,304.02 L68.46,304.36 L68.72,304.71 L68.99,305.08 L69.25,305.46 L69.52,305.85 L69.79,306.26 L70.05,306.68 L70.32,307.11 L70.58,307.56 L70.85,308.02 L71.12,308.49 L71.38,308.97 L71.65,309.46 L71.92,309.97 L72.18,310.49 L72.45,311.02 L72.71,311.56 L72.98,312.11 L73.25,312.67 L73.51,313.24 L73.78,313.83 L74.04,314.42 L74.31,315.02 L74.58,315.63 L74.84,316.25 L75.11,316.88 L75.37,317.52 L75.64,318.16 L75.91,318.82 L76.17,319.48 L76.44,320.15 L76.71,320.82 L76.97,321.5 L77.24,322.19 L77.5,322.89 L77.77,323.59 L78.04,324.29 L78.3,325 L78.57,325.72 L78.83,326.43 L79.1,327.16 L79.37,327.88 L79.63,328.61 L79.9,329.35 L80.17,330.08 L80.43,330.82 L80.7,331.56 L80.96,332.3 L81.23,333.04 L81.5,333.78 L81.76,334.52 L82.03,335.27 L82.29,336.01 L82.56,336.75 L82.83,337.49 L83.09,338.23 L83.36,338.97 L83.62,339.7 L83.89,340.43 L84.16,341.16 L84.42,341.89 L84.69,342.61 L84.96,343.33 L85.22,344.04 L85.49,344.75 L85.75,345.46 L86.02,346.15 L86.29,346.85 L86.55,347.53 L86.82,348.21 L87.08,348.88 L87.35,349.55 L87.62,350.2 L87.88,350.85 L88.15,351.49 L88.42,352.12 L88.68,352.75 L88.95,353.36 L89.21,353.96 L89.48,354.56 L89.75,355.14 L90.01,355.71 L90.28,356.27 L90.54,356.82 L90.81,357.36 L91.08,357.89 L91.34,358.4 L91.61,358.91 L91.87,359.4 L92.14,359.87 L92.41,360.34 L92.67,360.79 L92.94,361.22 L93.21,361.64 L93.47,362.05 L93.74,362.44 L94,362.82 L94.27,363.19 L94.54,363.53 L94.8,363.87 L95.07,364.19 L95.33,364.49 L95.6,364.77 L95.87,365.04 L96.13,365.3 L96.4,365.53 L96.67,365.76 L96.93,365.96 L97.2,366.15 L97.46,366.32 L97.73,366.47 L98,366.61 L98.26,366.73 L98.53,366.83 L98.79,366.91 L99.06,366.98 L99.33,367.03 L99.59,367.06 L99.86,367.08 L100.13,367.08 L100.39,367.06 L100.66,367.02 L100.92,366.96 L101.19,366.89 L101.46,366.8 L101.72,366.69 L101.99,366.57 L102.25,366.42 L102.52,366.26 L102.79,366.08 L103.05,365.89 L103.32,365.68 L103.58,365.45 L103.85,365.2 L104.12,364.94 L104.38,364.66 L104.65,364.36 L104.92,364.04 L105.18,363.71 L105.45,363.37 L105.71,363.01 L105.98,362.63 L106.25,362.23 L106.51,361.82 L106.78,361.4 L107.04,360.96 L107.31,360.5 L107.58,360.03 L107.84,359.55 L108.11,359.05 L108.38,358.54 L108.64,358.01 L108.91,357.47 L109.17,356.92 L109.44,356.35 L109.71,355.77 L109.97,355.18 L110.24,354.58 L110.5,353.97 L110.77,353.34 L111.04,352.7 L111.3,352.06 L111.57,351.4 L111.83,350.73 L112.1,350.05 L112.37,349.37 L112.63,348.67 L112.9,347.97 L113.17,347.26 L113.43,346.54 L113.7,345.81 L113.96,345.07 L114.23,344.33 L114.5,343.59 L114.76,342.83 L115.03,342.08 L115.29,341.31 L115.56,340.55 L115.83,339.77 L116.09,339 L116.36,338.22 L116.63,337.44 L116.89,336.66 L117.16,335.87 L117.42,335.09 L117.69,334.3 L117.96,333.51 L118.22,332.72 L118.49,331.94 L118.75,331.15 L119.02,330.36 L119.29,329.58 L119.55,328.8 L119.82,328.02 L120.08,327.24 L120.35,326.47 L120.62,325.7 L120.88,324.94 L121.15,324.18 L121.42,323.43 L121.68,322.68 L121.95,321.94 L122.21,321.2 L122.48,320.47 L122.75,319.75 L123.01,319.04 L123.28,318.34 L123.54,317.64 L123.81,316.96 L124.08,316.28 L124.34,315.62 L124.61,314.96 L124.88,314.32 L125.14,313.68 L125.41,313.06 L125.67,312.45 L125.94,311.85 L126.21,311.27 L126.47,310.7 L126.74,310.14 L127,309.6 L127.27,309.07 L127.54,308.55 L127.8,308.05 L128.07,307.57 L128.34,307.1 L128.6,306.65 L128.87,306.21 L129.13,305.79 L129.4,305.38 L129.67,305 L129.93,304.63 L130.2,304.27 L130.46,303.94 L130.73,303.62 L131,303.32 L131.26,303.04 L131.53,302.78 L131.79,302.54 L132.06,302.31 L132.33,302.11 L132.59,301.92 L132.86,301.76 L133.13,301.61 L133.39,301.48 L133.66,301.37 L133.92,301.29 L134.19,301.22 L134.46,301.17 L134.72,301.14 L134.99,301.13 L135.25,301.15 L135.52,301.18 L135.79,301.23 L136.05,301.31 L136.32,301.4 L136.59,301.51 L136.85,301.65 L137.12,301.8 L137.38,301.97 L137.65,302.17 L137.92,302.38 L138.18,302.61 L138.45,302.87 L138.71,303.14 L138.98,303.43 L139.25,303.75 L139.51,304.08 L139.78,304.43 L140.04,304.8 L140.31,305.19 L140.58,305.59 L140.84,306.02 L141.11,306.46 L141.38,306.92 L141.64,307.4 L141.91,307.9 L142.17,308.41 L142.44,308.94 L142.71,309.49 L142.97,310.05 L143.24,310.62 L143.5,311.22 L143.77,311.83 L144.04,312.45 L144.3,313.08 L144.57,313.73 L144.84,314.4 L145.1,315.08 L145.37,315.76 L145.63,316.47 L145.9,317.18 L146.17,317.9 L146.43,318.64 L146.7,319.38 L146.96,320.14 L147.23,320.91 L147.5,321.68 L147.76,322.46 L148.03,323.25 L148.29,324.05 L148.56,324.85 L148.83,325.66 L149.09,326.48 L149.36,327.3 L149.63,328.12 L149.89,328.95 L150.16,329.79 L150.42,330.62 L150.69,331.46 L150.96,332.3 L151.22,333.14 L151.49,333.99 L151.75,334.83 L152.02,335.67 L152.29,336.51 L152.55,337.35 L152.82,338.19 L153.09,339.02 L153.35,339.85 L153.62,340.68 L153.88,341.51 L154.15,342.32 L154.42,343.14 L154.68,343.94 L154.95,344.74 L155.21,345.53 L155.48,346.32 L155.75,347.09 L156.01,347.86 L156.28,348.62 L156.55,349.37 L156.81,350.11 L157.08,350.83 L157.34,351.55 L157.61,352.25 L157.88,352.94 L158.14,353.62 L158.41,354.28 L158.67,354.94 L158.94,355.57 L159.21,356.19 L159.47,356.8 L159.74,357.39 L160,357.97 L160.27,358.52 L160.54,359.07 L160.8,359.59 L161.07,360.1 L161.34,360.59 L161.6,361.06 L161.87,361.51 L162.13,361.94 L162.4,362.36" stroke="#ff0000" stroke-width="1.7" fill="none" stroke-linejoin="round" clip-path="url(#ce)" />
<path d="M29.6,367.2 L29.87,367.34 L30.13,367.46 L30.4,367.57 L30.66,367.67 L30.93,367.75 L31.2,367.83 L31.46,367.88 L31.73,367.93 L32,367.96 L32.26,367.97 L32.53,367.98 L32.79,367.97 L33.06,367.94 L33.33,367.9 L33.59,367.85 L33.86,367.79 L34.12,367.71 L34.39,367.62 L34.66,367.52 L34.92,367.4 L35.19,367.27 L35.45,367.12 L35.72,366.97 L35.99,366.8 L36.25,366.62 L36.52,366.42 L36.79,366.22 L37.05,366 L37.32,365.76 L37.58,365.52 L37.85,365.26 L38.12,365 L38.38,364.72 L38.65,364.43 L38.91,364.12 L39.18,363.81 L39.45,363.48 L39.71,363.14 L39.98,362.79 L40.25,362.44 L40.51,362.07 L40.78,361.68 L41.04,361.29 L41.31,360.89 L41.58,360.48 L41.84,360.06 L42.11,359.63 L42.37,359.18 L42.64,358.73 L42.91,358.27 L43.17,357.8 L43.44,357.33 L43.71,356.84 L43.97,356.34 L44.24,355.84 L44.5,355.33 L44.77,354.8 L45.04,354.28 L45.3,353.74 L45.57,353.2 L45.83,352.65 L46.1,352.09 L46.37,351.52 L46.63,350.95 L46.9,350.37 L47.16,349.79 L47.43,349.2 L47.7,348.6 L47.96,348 L48.23,347.4 L48.5,346.78 L48.76,346.17 L49.03,345.55 L49.29,344.92 L49.56,344.29 L49.83,343.66 L50.09,343.02 L50.36,342.38 L50.62,341.73 L50.89,341.08 L51.16,340.43 L51.42,339.78 L51.69,339.12 L51.96,338.47 L52.22,337.81 L52.49,337.15 L52.75,336.48 L53.02,335.82 L53.29,335.16 L53.55,334.49 L53.82,333.82 L54.08,333.16 L54.35,332.49 L54.62,331.83 L54.88,331.16 L55.15,330.5 L55.41,329.84 L55.68,329.17 L55.95,328.51 L56.21,327.86 L56.48,327.2 L56.75,326.55 L57.01,325.89 L57.28,325.25 L57.54,324.6 L57.81,323.96 L58.08,323.32 L58.34,322.68 L58.61,322.05 L58.87,321.43 L59.14,320.81 L59.41,320.19 L59.67,319.58 L59.94,318.97 L60.21,318.37 L60.47,317.77 L60.74,317.18 L61,316.6 L61.27,316.03 L61.54,315.46 L61.8,314.89 L62.07,314.34 L62.33,313.79 L62.6,313.25 L62.87,312.72 L63.13,312.19 L63.4,311.68 L63.66,311.17 L63.93,310.67 L64.2,310.18 L64.46,309.7 L64.73,309.23 L65,308.77 L65.26,308.32 L65.53,307.88 L65.79,307.45 L66.06,307.03 L66.33,306.62 L66.59,306.22 L66.86,305.83 L67.12,305.45 L67.39,305.09 L67.66,304.74 L67.92,304.4 L68.19,304.07 L68.46,303.75 L68.72,303.45 L68.99,303.16 L69.25,302.88 L69.52,302.61 L69.79,302.36 L70.05,302.12 L70.32,301.89 L70.58,301.68 L70.85,301.48 L71.12,301.3 L71.38,301.12 L71.65,300.97 L71.92,300.83 L72.18,300.7 L72.45,300.58 L72.71,300.48 L72.98,300.4 L73.25,300.33 L73.51,300.27 L73.78,300.23 L74.04,300.21 L74.31,300.2 L74.58,300.2 L74.84,300.22 L75.11,300.26 L75.37,300.31 L75.64,300.37 L75.91,300.45 L76.17,300.55 L76.44,300.66 L76.71,300.79 L76.97,300.93 L77.24,301.09 L77.5,301.26 L77.77,301.45 L78.04,301.66 L78.3,301.88 L78.57,302.11 L78.83,302.36 L79.1,302.63 L79.37,302.91 L79.63,303.2 L79.9,303.51 L80.17,303.83 L80.43,304.17 L80.7,304.52 L80.96,304.89 L81.23,305.27 L81.5,305.67 L81.76,306.08 L82.03,306.5 L82.29,306.94 L82.56,307.39 L82.83,307.85 L83.09,308.33 L83.36,308.82 L83.62,309.32 L83.89,309.83 L84.16,310.36 L84.42,310.9 L84.69,311.44 L84.96,312.01 L85.22,312.58 L85.49,313.16 L85.75,313.76 L86.02,314.36 L86.29,314.98 L86.55,315.6 L86.82,316.23 L87.08,316.88 L87.35,317.53 L87.62,318.19 L87.88,318.86 L88.15,319.54 L88.42,320.22 L88.68,320.92 L88.95,321.61 L89.21,322.32 L89.48,323.03 L89.75,323.75 L90.01,324.48 L90.28,325.21 L90.54,325.94 L90.81,326.68 L91.08,327.42 L91.34,328.17 L91.61,328.92 L91.87,329.67 L92.14,330.43 L92.41,331.18 L92.67,331.94 L92.94,332.71 L93.21,333.47 L93.47,334.23 L93.74,334.99 L94,335.76 L94.27,336.52 L94.54,337.28 L94.8,338.04 L95.07,338.8 L95.33,339.56 L95.6,340.31 L95.87,341.06 L96.13,341.81 L96.4,342.55 L96.67,343.29 L96.93,344.03 L97.2,344.75 L97.46,345.48 L97.73,346.2 L98,346.91 L98.26,347.62 L98.53,348.31 L98.79,349.01 L99.06,349.69 L99.33,350.36 L99.59,351.03 L99.86,351.69 L100.13,352.34 L100.39,352.98 L100.66,353.61 L100.92,354.23 L101.19,354.84 L101.46,355.43 L101.72,356.02 L101.99,356.59 L102.25,357.16 L102.52,357.71 L102.79,358.24 L103.05,358.77 L103.32,359.28 L103.58,359.78 L103.85,360.26 L104.12,360.73 L104.38,361.18 L104.65,361.62 L104.92,362.05 L105.18,362.46 L105.45,362.86 L105.71,363.24 L105.98,363.6 L106.25,363.95 L106.51,364.28 L106.78,364.59 L107.04,364.89 L107.31,365.17 L107.58,365.44 L107.84,365.68 L108.11,365.91 L108.38,366.12 L108.64,366.32 L108.91,366.5 L109.17,366.65 L109.44,366.8 L109.71,366.92 L109.97,367.02 L110.24,367.11 L110.5,367.18 L110.77,367.23 L111.04,367.26 L111.3,367.27 L111.57,367.27 L111.83,367.25 L112.1,367.2 L112.37,367.14 L112.63,367.07 L112.9,366.97 L113.17,366.85 L113.43,366.72 L113.7,366.57 L113.96,366.4 L114.23,366.21 L114.5,366 L114.76,365.78 L115.03,365.53 L115.29,365.27 L115.56,365 L115.83,364.7 L116.09,364.39 L116.36,364.06 L116.63,363.71 L116.89,363.34 L117.16,362.96 L117.42,362.56 L117.69,362.15 L117.96,361.71 L118.22,361.27 L118.49,360.8 L118.75,360.32 L119.02,359.83 L119.29,359.32 L119.55,358.8 L119.82,358.26 L120.08,357.7 L120.35,357.14 L120.62,356.56 L120.88,355.96 L121.15,355.36 L121.42,354.74 L121.68,354.1 L121.95,353.46 L122.21,352.81 L122.48,352.14 L122.75,351.46 L123.01,350.77 L123.28,350.07 L123.54,349.37 L123.81,348.65 L124.08,347.92 L124.34,347.19 L124.61,346.44 L124.88,345.69 L125.14,344.94 L125.41,344.17 L125.67,343.4 L125.94,342.62 L126.21,341.84 L126.47,341.05 L126.74,340.26 L127,339.46 L127.27,338.66 L127.54,337.86 L127.8,337.06 L128.07,336.25 L128.34,335.44 L128.6,334.63 L128.87,333.82 L129.13,333 L129.4,332.19 L129.67,331.38 L129.93,330.57 L130.2,329.76 L130.46,328.96 L130.73,328.16 L131,327.36 L131.26,326.56 L131.53,325.77 L131.79,324.98 L132.06,324.2 L132.33,323.42 L132.59,322.65 L132.86,321.89 L133.13,321.13 L133.39,320.38 L133.66,319.64 L133.92,318.91 L134.19,318.18 L134.46,317.47 L134.72,316.76 L134.99,316.07 L135.25,315.38 L135.52,314.71 L135.79,314.05 L136.05,313.4 L136.32,312.76 L136.59,312.14 L136.85,311.52 L137.12,310.93 L137.38,310.34 L137.65,309.77 L137.92,309.22 L138.18,308.68 L138.45,308.15 L138.71,307.65 L138.98,307.15 L139.25,306.68 L139.51,306.22 L139.78,305.78 L140.04,305.35 L140.31,304.94 L140.58,304.55 L140.84,304.18 L141.11,303.83 L141.38,303.49 L141.64,303.18 L141.91,302.88 L142.17,302.61 L142.44,302.35 L142.71,302.11 L142.97,301.89 L143.24,301.69 L143.5,301.52 L143.77,301.36 L144.04,301.22 L144.3,301.1 L144.57,301.01 L144.84,300.93 L145.1,300.88 L145.37,300.84 L145.63,300.83 L145.9,300.84 L146.17,300.87 L146.43,300.92 L146.7,300.99 L146.96,301.08 L147.23,301.19 L147.5,301.32 L147.76,301.48 L148.03,301.65 L148.29,301.84 L148.56,302.06 L148.83,302.3 L149.09,302.55 L149.36,302.83 L149.63,303.12 L149.89,303.44 L150.16,303.77 L150.42,304.13 L150.69,304.5 L150.96,304.9 L151.22,305.31 L151.49,305.74 L151.75,306.19 L152.02,306.66 L152.29,307.14 L152.55,307.64 L152.82,308.16 L153.09,308.7 L153.35,309.25 L153.62,309.82 L153.88,310.41 L154.15,311.01 L154.42,311.62 L154.68,312.25 L154.95,312.9 L155.21,313.56 L155.48,314.23 L155.75,314.92 L156.01,315.61 L156.28,316.32 L156.55,317.05 L156.81,317.78 L157.08,318.53 L157.34,319.28 L157.61,320.04 L157.88,320.82 L158.14,321.6 L158.41,322.39 L158.67,323.19 L158.94,324 L159.21,324.81 L159.47,325.63 L159.74,326.46 L160,327.29 L160.27,328.13 L160.54,328.97 L160.8,329.81 L161.07,330.66 L161.34,331.5 L161.6,332.35 L161.87,333.21 L162.13,334.06 L162.4,334.91" stroke="#0000ff" stroke-width="1.7" fill="none" stroke-linejoin="round" clip-path="url(#ce)" />
<text x="48.39" y="394.6" font-size="11.3" text-anchor="middle" font-weight="normal" >420</text>
<text x="85.76" y="394.6" font-size="11.3" text-anchor="middle" font-weight="normal" >440</text>
<text x="123.13" y="394.6" font-size="11.3" text-anchor="middle" font-weight="normal" >460</text>
<text x="160.5" y="394.6" font-size="11.3" text-anchor="middle" font-weight="normal" >480</text>
<text x="27.7" y="367.42" font-size="11.3" text-anchor="end" font-weight="normal" >-0.5</text>
<text x="27.7" y="337.8" font-size="11.3" text-anchor="end" font-weight="normal" >0</text>
<text x="27.7" y="308.17" font-size="11.3" text-anchor="end" font-weight="normal" >0.5</text>
<text transform="matrix(1.05,0,0,1,0.2,286.5)" font-size="14" text-anchor="start" font-weight="normal" class="L">(e)</text>
<text transform="translate(9.9,333.4) rotate(-90)" font-size="11.8" text-anchor="middle">E<tspan font-size="7.67" dy="4.72">x</tspan><tspan dy="-4.72">(E</tspan><tspan font-size="7.67" dy="4.72">0</tspan><tspan dy="-4.72">)</tspan></text>
<text x="97.5" y="408" font-size="11.6" text-anchor="middle" font-weight="normal" >x(µm)</text>
<path d="M53.4,295.5 H70.5" stroke="#333" stroke-width="1.0" fill="none"/>
<path d="M74.2,295.5 l-4.6,-2.1 v4.2 z" fill="#111"/>
<clipPath id="cf"><rect x="209.3" y="286.5" width="131.1" height="94.8"/></clipPath>
<path d="M228.03,381.3v-2.0M228.03,286.5v2.0M265.49,381.3v-2.0M265.49,286.5v2.0M302.94,381.3v-2.0M302.94,286.5v2.0M340.4,381.3v-2.0M340.4,286.5v2.0M209.3,363.52h2.0M340.4,363.52h-2.0M209.3,333.9h2.0M340.4,333.9h-2.0M209.3,304.27h2.0M340.4,304.27h-2.0" stroke="#808080" stroke-width="0.9" fill="none"/>
<rect x="209.3" y="286.5" width="131.1" height="94.8" stroke="#808080" stroke-width="1.1" fill="none"/>
<path d="M208.3,318.46 L208.57,319.21 L208.83,319.96 L209.1,320.72 L209.37,321.49 L209.63,322.27 L209.9,323.05 L210.17,323.84 L210.43,324.64 L210.7,325.44 L210.97,326.25 L211.23,327.06 L211.5,327.87 L211.77,328.69 L212.03,329.51 L212.3,330.34 L212.57,331.16 L212.83,331.99 L213.1,332.82 L213.37,333.65 L213.63,334.47 L213.9,335.3 L214.17,336.13 L214.43,336.95 L214.7,337.77 L214.97,338.59 L215.24,339.41 L215.5,340.23 L215.77,341.03 L216.04,341.84 L216.3,342.64 L216.57,343.43 L216.84,344.22 L217.1,345 L217.37,345.78 L217.64,346.54 L217.9,347.3 L218.17,348.05 L218.44,348.79 L218.7,349.53 L218.97,350.25 L219.24,350.96 L219.5,351.66 L219.77,352.35 L220.04,353.03 L220.3,353.7 L220.57,354.35 L220.84,354.99 L221.1,355.62 L221.37,356.24 L221.64,356.84 L221.9,357.43 L222.17,358 L222.44,358.56 L222.7,359.1 L222.97,359.63 L223.24,360.14 L223.5,360.63 L223.77,361.11 L224.04,361.57 L224.3,362.02 L224.57,362.45 L224.84,362.86 L225.1,363.25 L225.37,363.62 L225.64,363.98 L225.9,364.32 L226.17,364.63 L226.44,364.93 L226.7,365.21 L226.97,365.48 L227.24,365.72 L227.5,365.94 L227.77,366.14 L228.04,366.33 L228.31,366.49 L228.57,366.63 L228.84,366.76 L229.11,366.86 L229.37,366.94 L229.64,367 L229.91,367.05 L230.17,367.07 L230.44,367.07 L230.71,367.05 L230.97,367.01 L231.24,366.96 L231.51,366.88 L231.77,366.78 L232.04,366.66 L232.31,366.52 L232.57,366.36 L232.84,366.18 L233.11,365.98 L233.37,365.76 L233.64,365.52 L233.91,365.27 L234.17,364.99 L234.44,364.69 L234.71,364.38 L234.97,364.04 L235.24,363.69 L235.51,363.32 L235.77,362.93 L236.04,362.53 L236.31,362.1 L236.57,361.66 L236.84,361.2 L237.11,360.73 L237.37,360.24 L237.64,359.73 L237.91,359.21 L238.17,358.67 L238.44,358.12 L238.71,357.55 L238.97,356.96 L239.24,356.37 L239.51,355.76 L239.77,355.13 L240.04,354.5 L240.31,353.85 L240.57,353.18 L240.84,352.51 L241.11,351.83 L241.37,351.13 L241.64,350.42 L241.91,349.71 L242.18,348.98 L242.44,348.25 L242.71,347.51 L242.98,346.75 L243.24,346 L243.51,345.23 L243.78,344.46 L244.04,343.68 L244.31,342.89 L244.58,342.1 L244.84,341.31 L245.11,340.51 L245.38,339.71 L245.64,338.9 L245.91,338.09 L246.18,337.28 L246.44,336.47 L246.71,335.65 L246.98,334.84 L247.24,334.02 L247.51,333.21 L247.78,332.39 L248.04,331.58 L248.31,330.77 L248.58,329.96 L248.84,329.16 L249.11,328.35 L249.38,327.55 L249.64,326.76 L249.91,325.97 L250.18,325.19 L250.44,324.41 L250.71,323.63 L250.98,322.87 L251.24,322.11 L251.51,321.36 L251.78,320.62 L252.04,319.88 L252.31,319.16 L252.58,318.44 L252.84,317.73 L253.11,317.04 L253.38,316.35 L253.64,315.68 L253.91,315.02 L254.18,314.37 L254.44,313.73 L254.71,313.1 L254.98,312.49 L255.25,311.89 L255.51,311.31 L255.78,310.74 L256.05,310.18 L256.31,309.64 L256.58,309.11 L256.85,308.6 L257.11,308.1 L257.38,307.62 L257.65,307.16 L257.91,306.71 L258.18,306.28 L258.45,305.87 L258.71,305.47 L258.98,305.09 L259.25,304.73 L259.51,304.39 L259.78,304.06 L260.05,303.75 L260.31,303.46 L260.58,303.19 L260.85,302.94 L261.11,302.71 L261.38,302.49 L261.65,302.3 L261.91,302.12 L262.18,301.96 L262.45,301.83 L262.71,301.71 L262.98,301.61 L263.25,301.53 L263.51,301.47 L263.78,301.42 L264.05,301.4 L264.31,301.4 L264.58,301.41 L264.85,301.45 L265.11,301.5 L265.38,301.58 L265.65,301.67 L265.91,301.78 L266.18,301.91 L266.45,302.06 L266.71,302.23 L266.98,302.42 L267.25,302.62 L267.51,302.85 L267.78,303.09 L268.05,303.35 L268.32,303.63 L268.58,303.92 L268.85,304.24 L269.12,304.57 L269.38,304.91 L269.65,305.28 L269.92,305.66 L270.18,306.06 L270.45,306.47 L270.72,306.91 L270.98,307.35 L271.25,307.81 L271.52,308.29 L271.78,308.78 L272.05,309.29 L272.32,309.81 L272.58,310.34 L272.85,310.89 L273.12,311.45 L273.38,312.03 L273.65,312.62 L273.92,313.21 L274.18,313.83 L274.45,314.45 L274.72,315.08 L274.98,315.73 L275.25,316.38 L275.52,317.05 L275.78,317.72 L276.05,318.4 L276.32,319.09 L276.58,319.79 L276.85,320.5 L277.12,321.22 L277.38,321.94 L277.65,322.67 L277.92,323.4 L278.18,324.15 L278.45,324.89 L278.72,325.64 L278.98,326.4 L279.25,327.16 L279.52,327.92 L279.78,328.68 L280.05,329.45 L280.32,330.22 L280.58,330.99 L280.85,331.77 L281.12,332.54 L281.38,333.31 L281.65,334.09 L281.92,334.86 L282.19,335.63 L282.45,336.4 L282.72,337.17 L282.99,337.94 L283.25,338.7 L283.52,339.46 L283.79,340.21 L284.05,340.97 L284.32,341.71 L284.59,342.46 L284.85,343.19 L285.12,343.92 L285.39,344.65 L285.65,345.36 L285.92,346.08 L286.19,346.78 L286.45,347.47 L286.72,348.16 L286.99,348.84 L287.25,349.51 L287.52,350.17 L287.79,350.82 L288.05,351.46 L288.32,352.09 L288.59,352.71 L288.85,353.31 L289.12,353.91 L289.39,354.49 L289.65,355.06 L289.92,355.62 L290.19,356.17 L290.45,356.7 L290.72,357.23 L290.99,357.73 L291.25,358.23 L291.52,358.71 L291.79,359.17 L292.05,359.62 L292.32,360.06 L292.59,360.48 L292.85,360.88 L293.12,361.27 L293.39,361.65 L293.65,362.01 L293.92,362.35 L294.19,362.68 L294.45,362.99 L294.72,363.28 L294.99,363.56 L295.26,363.82 L295.52,364.07 L295.79,364.3 L296.06,364.51 L296.32,364.7 L296.59,364.88 L296.86,365.04 L297.12,365.18 L297.39,365.31 L297.66,365.42 L297.92,365.51 L298.19,365.58 L298.46,365.64 L298.72,365.68 L298.99,365.71 L299.26,365.71 L299.52,365.7 L299.79,365.67 L300.06,365.63 L300.32,365.57 L300.59,365.49 L300.86,365.39 L301.12,365.28 L301.39,365.15 L301.66,365.01 L301.92,364.85 L302.19,364.67 L302.46,364.47 L302.72,364.26 L302.99,364.04 L303.26,363.8 L303.52,363.54 L303.79,363.27 L304.06,362.98 L304.32,362.68 L304.59,362.37 L304.86,362.04 L305.12,361.69 L305.39,361.33 L305.66,360.96 L305.92,360.57 L306.19,360.17 L306.46,359.76 L306.72,359.33 L306.99,358.89 L307.26,358.44 L307.52,357.98 L307.79,357.5 L308.06,357.01 L308.33,356.51 L308.59,356 L308.86,355.48 L309.13,354.95 L309.39,354.41 L309.66,353.86 L309.93,353.29 L310.19,352.72 L310.46,352.14 L310.73,351.55 L310.99,350.96 L311.26,350.35 L311.53,349.74 L311.79,349.12 L312.06,348.49 L312.33,347.85 L312.59,347.21 L312.86,346.57 L313.13,345.91 L313.39,345.25 L313.66,344.59 L313.93,343.92 L314.19,343.25 L314.46,342.57 L314.73,341.89 L314.99,341.2 L315.26,340.51 L315.53,339.82 L315.79,339.13 L316.06,338.43 L316.33,337.73 L316.59,337.03 L316.86,336.33 L317.13,335.63 L317.39,334.93 L317.66,334.23 L317.93,333.53 L318.19,332.83 L318.46,332.13 L318.73,331.43 L318.99,330.74 L319.26,330.04 L319.53,329.35 L319.79,328.66 L320.06,327.98 L320.33,327.29 L320.59,326.61 L320.86,325.94 L321.13,325.27 L321.39,324.6 L321.66,323.94 L321.93,323.28 L322.2,322.63 L322.46,321.99 L322.73,321.35 L323,320.72 L323.26,320.09 L323.53,319.48 L323.8,318.87 L324.06,318.26 L324.33,317.67 L324.6,317.08 L324.86,316.5 L325.13,315.93 L325.4,315.38 L325.66,314.82 L325.93,314.28 L326.2,313.75 L326.46,313.23 L326.73,312.72 L327,312.22 L327.26,311.73 L327.53,311.25 L327.8,310.79 L328.06,310.33 L328.33,309.89 L328.6,309.46 L328.86,309.04 L329.13,308.63 L329.4,308.23 L329.66,307.85 L329.93,307.48 L330.2,307.13 L330.46,306.78 L330.73,306.45 L331,306.14 L331.26,305.83 L331.53,305.55 L331.8,305.27 L332.06,305.01 L332.33,304.76 L332.6,304.53 L332.86,304.31 L333.13,304.11 L333.4,303.92 L333.66,303.75 L333.93,303.59 L334.2,303.45 L334.46,303.32 L334.73,303.2 L335,303.1 L335.27,303.02 L335.53,302.95 L335.8,302.9 L336.07,302.86 L336.33,302.83 L336.6,302.83 L336.87,302.83 L337.13,302.86 L337.4,302.89 L337.67,302.95 L337.93,303.01 L338.2,303.1 L338.47,303.19 L338.73,303.31 L339,303.44 L339.27,303.58 L339.53,303.74 L339.8,303.91 L340.07,304.09 L340.33,304.29 L340.6,304.51 L340.87,304.74 L341.13,304.98 L341.4,305.24" stroke="#000000" stroke-width="1.6" fill="none" stroke-linejoin="round" clip-path="url(#cf)" stroke-dasharray="10,3.4" />
<path d="M208.3,349.76 L208.57,350.49 L208.83,351.2 L209.1,351.91 L209.37,352.6 L209.63,353.28 L209.9,353.95 L210.17,354.61 L210.43,355.26 L210.7,355.89 L210.97,356.51 L211.23,357.11 L211.5,357.7 L211.77,358.28 L212.03,358.84 L212.3,359.39 L212.57,359.92 L212.83,360.43 L213.1,360.93 L213.37,361.41 L213.63,361.88 L213.9,362.32 L214.17,362.75 L214.43,363.17 L214.7,363.56 L214.97,363.94 L215.24,364.29 L215.5,364.63 L215.77,364.96 L216.04,365.26 L216.3,365.54 L216.57,365.8 L216.84,366.05 L217.1,366.27 L217.37,366.48 L217.64,366.66 L217.9,366.83 L218.17,366.97 L218.44,367.1 L218.7,367.2 L218.97,367.28 L219.24,367.35 L219.5,367.39 L219.77,367.41 L220.04,367.42 L220.3,367.4 L220.57,367.36 L220.84,367.3 L221.1,367.23 L221.37,367.13 L221.64,367.01 L221.9,366.87 L222.17,366.71 L222.44,366.53 L222.7,366.33 L222.97,366.12 L223.24,365.88 L223.5,365.62 L223.77,365.35 L224.04,365.05 L224.3,364.74 L224.57,364.4 L224.84,364.05 L225.1,363.68 L225.37,363.3 L225.64,362.89 L225.9,362.47 L226.17,362.03 L226.44,361.57 L226.7,361.1 L226.97,360.61 L227.24,360.1 L227.5,359.58 L227.77,359.05 L228.04,358.49 L228.31,357.93 L228.57,357.35 L228.84,356.75 L229.11,356.14 L229.37,355.52 L229.64,354.89 L229.91,354.24 L230.17,353.58 L230.44,352.91 L230.71,352.22 L230.97,351.53 L231.24,350.82 L231.51,350.11 L231.77,349.39 L232.04,348.65 L232.31,347.91 L232.57,347.16 L232.84,346.4 L233.11,345.64 L233.37,344.86 L233.64,344.08 L233.91,343.3 L234.17,342.51 L234.44,341.71 L234.71,340.91 L234.97,340.11 L235.24,339.3 L235.51,338.49 L235.77,337.68 L236.04,336.86 L236.31,336.05 L236.57,335.23 L236.84,334.41 L237.11,333.59 L237.37,332.77 L237.64,331.95 L237.91,331.14 L238.17,330.32 L238.44,329.51 L238.71,328.7 L238.97,327.9 L239.24,327.1 L239.51,326.3 L239.77,325.51 L240.04,324.72 L240.31,323.94 L240.57,323.16 L240.84,322.39 L241.11,321.63 L241.37,320.88 L241.64,320.13 L241.91,319.4 L242.18,318.67 L242.44,317.95 L242.71,317.24 L242.98,316.54 L243.24,315.86 L243.51,315.18 L243.78,314.51 L244.04,313.86 L244.31,313.22 L244.58,312.59 L244.84,311.98 L245.11,311.38 L245.38,310.79 L245.64,310.21 L245.91,309.66 L246.18,309.11 L246.44,308.58 L246.71,308.07 L246.98,307.57 L247.24,307.09 L247.51,306.63 L247.78,306.18 L248.04,305.75 L248.31,305.33 L248.58,304.94 L248.84,304.56 L249.11,304.2 L249.38,303.85 L249.64,303.53 L249.91,303.22 L250.18,302.93 L250.44,302.67 L250.71,302.42 L250.98,302.19 L251.24,301.98 L251.51,301.79 L251.78,301.61 L252.04,301.46 L252.31,301.33 L252.58,301.22 L252.84,301.13 L253.11,301.05 L253.38,301 L253.64,300.97 L253.91,300.96 L254.18,300.96 L254.44,300.99 L254.71,301.04 L254.98,301.11 L255.25,301.2 L255.51,301.3 L255.78,301.43 L256.05,301.58 L256.31,301.75 L256.58,301.94 L256.85,302.14 L257.11,302.37 L257.38,302.62 L257.65,302.88 L257.91,303.17 L258.18,303.47 L258.45,303.79 L258.71,304.13 L258.98,304.49 L259.25,304.87 L259.51,305.27 L259.78,305.68 L260.05,306.11 L260.31,306.56 L260.58,307.02 L260.85,307.5 L261.11,308 L261.38,308.51 L261.65,309.04 L261.91,309.59 L262.18,310.14 L262.45,310.72 L262.71,311.31 L262.98,311.91 L263.25,312.52 L263.51,313.15 L263.78,313.8 L264.05,314.45 L264.31,315.12 L264.58,315.79 L264.85,316.48 L265.11,317.18 L265.38,317.89 L265.65,318.61 L265.91,319.34 L266.18,320.08 L266.45,320.82 L266.71,321.58 L266.98,322.34 L267.25,323.1 L267.51,323.88 L267.78,324.66 L268.05,325.45 L268.32,326.24 L268.58,327.03 L268.85,327.83 L269.12,328.63 L269.38,329.44 L269.65,330.25 L269.92,331.06 L270.18,331.87 L270.45,332.68 L270.72,333.5 L270.98,334.31 L271.25,335.12 L271.52,335.93 L271.78,336.74 L272.05,337.55 L272.32,338.35 L272.58,339.15 L272.85,339.95 L273.12,340.75 L273.38,341.53 L273.65,342.32 L273.92,343.1 L274.18,343.87 L274.45,344.63 L274.72,345.39 L274.98,346.14 L275.25,346.89 L275.52,347.62 L275.78,348.35 L276.05,349.06 L276.32,349.77 L276.58,350.46 L276.85,351.15 L277.12,351.82 L277.38,352.49 L277.65,353.14 L277.92,353.78 L278.18,354.4 L278.45,355.02 L278.72,355.62 L278.98,356.21 L279.25,356.78 L279.52,357.34 L279.78,357.88 L280.05,358.41 L280.32,358.92 L280.58,359.42 L280.85,359.9 L281.12,360.37 L281.38,360.82 L281.65,361.25 L281.92,361.67 L282.19,362.07 L282.45,362.45 L282.72,362.82 L282.99,363.16 L283.25,363.49 L283.52,363.81 L283.79,364.1 L284.05,364.37 L284.32,364.63 L284.59,364.87 L284.85,365.09 L285.12,365.29 L285.39,365.47 L285.65,365.64 L285.92,365.78 L286.19,365.91 L286.45,366.02 L286.72,366.1 L286.99,366.17 L287.25,366.22 L287.52,366.26 L287.79,366.27 L288.05,366.26 L288.32,366.24 L288.59,366.2 L288.85,366.13 L289.12,366.05 L289.39,365.95 L289.65,365.84 L289.92,365.7 L290.19,365.55 L290.45,365.38 L290.72,365.19 L290.99,364.98 L291.25,364.75 L291.52,364.51 L291.79,364.25 L292.05,363.97 L292.32,363.68 L292.59,363.37 L292.85,363.04 L293.12,362.7 L293.39,362.34 L293.65,361.96 L293.92,361.57 L294.19,361.17 L294.45,360.75 L294.72,360.31 L294.99,359.86 L295.26,359.39 L295.52,358.92 L295.79,358.42 L296.06,357.92 L296.32,357.4 L296.59,356.87 L296.86,356.32 L297.12,355.77 L297.39,355.2 L297.66,354.62 L297.92,354.03 L298.19,353.42 L298.46,352.81 L298.72,352.19 L298.99,351.56 L299.26,350.92 L299.52,350.27 L299.79,349.61 L300.06,348.94 L300.32,348.26 L300.59,347.58 L300.86,346.89 L301.12,346.2 L301.39,345.49 L301.66,344.78 L301.92,344.07 L302.19,343.35 L302.46,342.63 L302.72,341.9 L302.99,341.16 L303.26,340.43 L303.52,339.69 L303.79,338.95 L304.06,338.2 L304.32,337.46 L304.59,336.71 L304.86,335.96 L305.12,335.21 L305.39,334.46 L305.66,333.71 L305.92,332.96 L306.19,332.21 L306.46,331.46 L306.72,330.72 L306.99,329.98 L307.26,329.23 L307.52,328.5 L307.79,327.76 L308.06,327.03 L308.33,326.31 L308.59,325.58 L308.86,324.87 L309.13,324.15 L309.39,323.45 L309.66,322.75 L309.93,322.05 L310.19,321.37 L310.46,320.69 L310.73,320.01 L310.99,319.35 L311.26,318.69 L311.53,318.04 L311.79,317.4 L312.06,316.77 L312.33,316.15 L312.59,315.54 L312.86,314.94 L313.13,314.35 L313.39,313.77 L313.66,313.21 L313.93,312.65 L314.19,312.1 L314.46,311.57 L314.73,311.05 L314.99,310.54 L315.26,310.05 L315.53,309.56 L315.79,309.09 L316.06,308.64 L316.33,308.2 L316.59,307.77 L316.86,307.36 L317.13,306.96 L317.39,306.57 L317.66,306.2 L317.93,305.85 L318.19,305.51 L318.46,305.19 L318.73,304.88 L318.99,304.58 L319.26,304.31 L319.53,304.05 L319.79,303.8 L320.06,303.58 L320.33,303.36 L320.59,303.17 L320.86,302.99 L321.13,302.83 L321.39,302.68 L321.66,302.55 L321.93,302.44 L322.2,302.35 L322.46,302.27 L322.73,302.21 L323,302.17 L323.26,302.14 L323.53,302.13 L323.8,302.14 L324.06,302.17 L324.33,302.21 L324.6,302.27 L324.86,302.35 L325.13,302.44 L325.4,302.55 L325.66,302.68 L325.93,302.83 L326.2,302.99 L326.46,303.16 L326.73,303.36 L327,303.57 L327.26,303.8 L327.53,304.04 L327.8,304.3 L328.06,304.57 L328.33,304.86 L328.6,305.17 L328.86,305.49 L329.13,305.83 L329.4,306.18 L329.66,306.54 L329.93,306.92 L330.2,307.32 L330.46,307.73 L330.73,308.15 L331,308.59 L331.26,309.04 L331.53,309.5 L331.8,309.98 L332.06,310.46 L332.33,310.96 L332.6,311.48 L332.86,312 L333.13,312.54 L333.4,313.09 L333.66,313.64 L333.93,314.21 L334.2,314.79 L334.46,315.38 L334.73,315.98 L335,316.59 L335.27,317.2 L335.53,317.83 L335.8,318.46 L336.07,319.11 L336.33,319.75 L336.6,320.41 L336.87,321.08 L337.13,321.75 L337.4,322.42 L337.67,323.1 L337.93,323.79 L338.2,324.48 L338.47,325.18 L338.73,325.88 L339,326.59 L339.27,327.3 L339.53,328.01 L339.8,328.73 L340.07,329.44 L340.33,330.16 L340.6,330.89 L340.87,331.61 L341.13,332.33 L341.4,333.06" stroke="#ff0000" stroke-width="1.7" fill="none" stroke-linejoin="round" clip-path="url(#cf)" />
<path d="M208.3,367.2 L208.57,367.32 L208.83,367.41 L209.1,367.49 L209.37,367.54 L209.63,367.57 L209.9,367.59 L210.17,367.58 L210.43,367.55 L210.7,367.51 L210.97,367.44 L211.23,367.35 L211.5,367.24 L211.77,367.11 L212.03,366.96 L212.3,366.79 L212.57,366.6 L212.83,366.39 L213.1,366.16 L213.37,365.91 L213.63,365.64 L213.9,365.36 L214.17,365.05 L214.43,364.73 L214.7,364.38 L214.97,364.02 L215.24,363.64 L215.5,363.25 L215.77,362.83 L216.04,362.4 L216.3,361.95 L216.57,361.48 L216.84,361 L217.1,360.5 L217.37,359.99 L217.64,359.46 L217.9,358.91 L218.17,358.35 L218.44,357.78 L218.7,357.19 L218.97,356.59 L219.24,355.97 L219.5,355.34 L219.77,354.7 L220.04,354.05 L220.3,353.38 L220.57,352.7 L220.84,352.01 L221.1,351.31 L221.37,350.6 L221.64,349.88 L221.9,349.16 L222.17,348.42 L222.44,347.67 L222.7,346.92 L222.97,346.15 L223.24,345.38 L223.5,344.61 L223.77,343.82 L224.04,343.04 L224.3,342.24 L224.57,341.44 L224.84,340.64 L225.1,339.83 L225.37,339.02 L225.64,338.21 L225.9,337.39 L226.17,336.57 L226.44,335.75 L226.7,334.93 L226.97,334.11 L227.24,333.29 L227.5,332.47 L227.77,331.65 L228.04,330.83 L228.31,330.02 L228.57,329.2 L228.84,328.39 L229.11,327.58 L229.37,326.78 L229.64,325.98 L229.91,325.18 L230.17,324.4 L230.44,323.61 L230.71,322.83 L230.97,322.06 L231.24,321.3 L231.51,320.54 L231.77,319.8 L232.04,319.06 L232.31,318.33 L232.57,317.61 L232.84,316.9 L233.11,316.2 L233.37,315.51 L233.64,314.83 L233.91,314.16 L234.17,313.51 L234.44,312.86 L234.71,312.23 L234.97,311.62 L235.24,311.01 L235.51,310.43 L235.77,309.85 L236.04,309.29 L236.31,308.75 L236.57,308.22 L236.84,307.71 L237.11,307.21 L237.37,306.73 L237.64,306.26 L237.91,305.82 L238.17,305.39 L238.44,304.98 L238.71,304.58 L238.97,304.21 L239.24,303.85 L239.51,303.51 L239.77,303.19 L240.04,302.89 L240.31,302.61 L240.57,302.35 L240.84,302.1 L241.11,301.88 L241.37,301.68 L241.64,301.5 L241.91,301.34 L242.18,301.2 L242.44,301.08 L242.71,300.98 L242.98,300.9 L243.24,300.84 L243.51,300.8 L243.78,300.79 L244.04,300.79 L244.31,300.82 L244.58,300.87 L244.84,300.93 L245.11,301.02 L245.38,301.14 L245.64,301.27 L245.91,301.42 L246.18,301.6 L246.44,301.79 L246.71,302.01 L246.98,302.25 L247.24,302.51 L247.51,302.79 L247.78,303.09 L248.04,303.42 L248.31,303.76 L248.58,304.12 L248.84,304.5 L249.11,304.91 L249.38,305.33 L249.64,305.77 L249.91,306.23 L250.18,306.71 L250.44,307.21 L250.71,307.73 L250.98,308.26 L251.24,308.81 L251.51,309.38 L251.78,309.97 L252.04,310.57 L252.31,311.19 L252.58,311.82 L252.84,312.47 L253.11,313.13 L253.38,313.81 L253.64,314.51 L253.91,315.21 L254.18,315.93 L254.44,316.66 L254.71,317.4 L254.98,318.16 L255.25,318.92 L255.51,319.7 L255.78,320.48 L256.05,321.28 L256.31,322.08 L256.58,322.89 L256.85,323.71 L257.11,324.53 L257.38,325.36 L257.65,326.2 L257.91,327.04 L258.18,327.89 L258.45,328.74 L258.71,329.59 L258.98,330.45 L259.25,331.31 L259.51,332.17 L259.78,333.03 L260.05,333.89 L260.31,334.75 L260.58,335.61 L260.85,336.47 L261.11,337.33 L261.38,338.18 L261.65,339.03 L261.91,339.87 L262.18,340.71 L262.45,341.55 L262.71,342.38 L262.98,343.2 L263.25,344.02 L263.51,344.83 L263.78,345.63 L264.05,346.42 L264.31,347.2 L264.58,347.98 L264.85,348.74 L265.11,349.49 L265.38,350.23 L265.65,350.96 L265.91,351.68 L266.18,352.38 L266.45,353.08 L266.71,353.75 L266.98,354.42 L267.25,355.07 L267.51,355.7 L267.78,356.32 L268.05,356.92 L268.32,357.51 L268.58,358.08 L268.85,358.63 L269.12,359.17 L269.38,359.69 L269.65,360.19 L269.92,360.67 L270.18,361.14 L270.45,361.59 L270.72,362.02 L270.98,362.43 L271.25,362.82 L271.52,363.19 L271.78,363.54 L272.05,363.87 L272.32,364.18 L272.58,364.48 L272.85,364.75 L273.12,365 L273.38,365.24 L273.65,365.45 L273.92,365.64 L274.18,365.81 L274.45,365.96 L274.72,366.1 L274.98,366.21 L275.25,366.3 L275.52,366.37 L275.78,366.42 L276.05,366.45 L276.32,366.46 L276.58,366.46 L276.85,366.43 L277.12,366.38 L277.38,366.31 L277.65,366.23 L277.92,366.12 L278.18,366 L278.45,365.85 L278.72,365.69 L278.98,365.51 L279.25,365.31 L279.52,365.1 L279.78,364.86 L280.05,364.61 L280.32,364.34 L280.58,364.05 L280.85,363.75 L281.12,363.42 L281.38,363.08 L281.65,362.73 L281.92,362.36 L282.19,361.97 L282.45,361.57 L282.72,361.15 L282.99,360.72 L283.25,360.27 L283.52,359.81 L283.79,359.33 L284.05,358.84 L284.32,358.34 L284.59,357.82 L284.85,357.29 L285.12,356.75 L285.39,356.19 L285.65,355.63 L285.92,355.05 L286.19,354.46 L286.45,353.86 L286.72,353.25 L286.99,352.63 L287.25,352 L287.52,351.36 L287.79,350.71 L288.05,350.05 L288.32,349.39 L288.59,348.71 L288.85,348.03 L289.12,347.34 L289.39,346.65 L289.65,345.95 L289.92,345.24 L290.19,344.53 L290.45,343.81 L290.72,343.09 L290.99,342.36 L291.25,341.63 L291.52,340.89 L291.79,340.15 L292.05,339.41 L292.32,338.67 L292.59,337.93 L292.85,337.18 L293.12,336.43 L293.39,335.68 L293.65,334.93 L293.92,334.18 L294.19,333.43 L294.45,332.69 L294.72,331.94 L294.99,331.19 L295.26,330.45 L295.52,329.71 L295.79,328.97 L296.06,328.23 L296.32,327.5 L296.59,326.77 L296.86,326.05 L297.12,325.33 L297.39,324.61 L297.66,323.91 L297.92,323.2 L298.19,322.5 L298.46,321.81 L298.72,321.13 L298.99,320.45 L299.26,319.78 L299.52,319.12 L299.79,318.47 L300.06,317.82 L300.32,317.18 L300.59,316.56 L300.86,315.94 L301.12,315.33 L301.39,314.73 L301.66,314.14 L301.92,313.57 L302.19,313 L302.46,312.44 L302.72,311.9 L302.99,311.37 L303.26,310.85 L303.52,310.34 L303.79,309.85 L304.06,309.37 L304.32,308.9 L304.59,308.44 L304.86,308 L305.12,307.57 L305.39,307.16 L305.66,306.76 L305.92,306.38 L306.19,306.01 L306.46,305.65 L306.72,305.31 L306.99,304.99 L307.26,304.68 L307.52,304.39 L307.79,304.11 L308.06,303.85 L308.33,303.6 L308.59,303.38 L308.86,303.16 L309.13,302.97 L309.39,302.79 L309.66,302.63 L309.93,302.48 L310.19,302.35 L310.46,302.24 L310.73,302.15 L310.99,302.07 L311.26,302.01 L311.53,301.97 L311.79,301.95 L312.06,301.94 L312.33,301.95 L312.59,301.98 L312.86,302.02 L313.13,302.09 L313.39,302.17 L313.66,302.27 L313.93,302.38 L314.19,302.51 L314.46,302.66 L314.73,302.83 L314.99,303.01 L315.26,303.21 L315.53,303.43 L315.79,303.66 L316.06,303.91 L316.33,304.18 L316.59,304.46 L316.86,304.76 L317.13,305.08 L317.39,305.41 L317.66,305.75 L317.93,306.11 L318.19,306.49 L318.46,306.88 L318.73,307.28 L318.99,307.7 L319.26,308.14 L319.53,308.59 L319.79,309.05 L320.06,309.52 L320.33,310.01 L320.59,310.51 L320.86,311.03 L321.13,311.55 L321.39,312.09 L321.66,312.64 L321.93,313.2 L322.2,313.77 L322.46,314.36 L322.73,314.95 L323,315.55 L323.26,316.17 L323.53,316.79 L323.8,317.42 L324.06,318.06 L324.33,318.71 L324.6,319.37 L324.86,320.04 L325.13,320.71 L325.4,321.39 L325.66,322.08 L325.93,322.77 L326.2,323.47 L326.46,324.17 L326.73,324.88 L327,325.59 L327.26,326.31 L327.53,327.03 L327.8,327.76 L328.06,328.49 L328.33,329.22 L328.6,329.95 L328.86,330.69 L329.13,331.42 L329.4,332.16 L329.66,332.9 L329.93,333.64 L330.2,334.38 L330.46,335.12 L330.73,335.85 L331,336.59 L331.26,337.32 L331.53,338.06 L331.8,338.79 L332.06,339.51 L332.33,340.24 L332.6,340.96 L332.86,341.67 L333.13,342.38 L333.4,343.09 L333.66,343.79 L333.93,344.49 L334.2,345.18 L334.46,345.86 L334.73,346.54 L335,347.21 L335.27,347.87 L335.53,348.52 L335.8,349.17 L336.07,349.81 L336.33,350.44 L336.6,351.05 L336.87,351.66 L337.13,352.27 L337.4,352.86 L337.67,353.43 L337.93,354 L338.2,354.56 L338.47,355.11 L338.73,355.64 L339,356.16 L339.27,356.67 L339.53,357.17 L339.8,357.66 L340.07,358.13 L340.33,358.59 L340.6,359.03 L340.87,359.46 L341.13,359.88 L341.4,360.28" stroke="#0000ff" stroke-width="1.7" fill="none" stroke-linejoin="round" clip-path="url(#cf)" />
<text x="227.13" y="394.6" font-size="11.3" text-anchor="middle" font-weight="normal" >420</text>
<text x="264.59" y="394.6" font-size="11.3" text-anchor="middle" font-weight="normal" >440</text>
<text x="302.04" y="394.6" font-size="11.3" text-anchor="middle" font-weight="normal" >460</text>
<text x="339.5" y="394.6" font-size="11.3" text-anchor="middle" font-weight="normal" >480</text>
<text x="206.4" y="367.42" font-size="11.3" text-anchor="end" font-weight="normal" >-0.5</text>
<text x="206.4" y="337.8" font-size="11.3" text-anchor="end" font-weight="normal" >0</text>
<text x="206.4" y="308.17" font-size="11.3" text-anchor="end" font-weight="normal" >0.5</text>
<text transform="matrix(1.05,0,0,1,177.6,286.6)" font-size="14" text-anchor="start" font-weight="normal" class="L">(f)</text>
<text transform="translate(186.5,332.7) rotate(-90)" font-size="11.8" text-anchor="middle">E<tspan font-size="7.67" dy="4.72">x</tspan><tspan dy="-4.72">(E</tspan><tspan font-size="7.67" dy="4.72">0</tspan><tspan dy="-4.72">)</tspan></text>
<text x="276.35" y="408" font-size="11.6" text-anchor="middle" font-weight="normal" >x(µm)</text>
<path d="M249.5,295.8 H266.2" stroke="#6f6f6f" stroke-width="1.6" fill="none"/>
<path d="M245.6,295.8 l5,-2 v4 z" fill="#333"/>
</g></svg></body></html>
